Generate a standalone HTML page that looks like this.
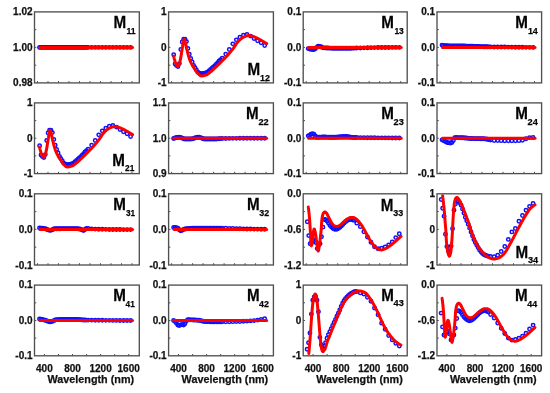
<!DOCTYPE html>
<html><head><meta charset="utf-8"><style>html,body{margin:0;padding:0;background:#fff;}svg{display:block;}
text{font-family:"Liberation Sans", Arial, sans-serif;font-weight:bold;stroke:#111;stroke-width:0.25px;}
.t{font-size:10px;fill:#111;}
.m{font-size:15.8px;fill:#000;}
.w{font-size:11px;fill:#111;}
.s{font-size:9.9px;fill:#000;}</style></head>
<body><svg width="550" height="393" viewBox="0 0 550 393">
<rect width="550" height="393" fill="#fff"/>
<g fill="none" stroke="#1010ff" stroke-width="1.5"><circle cx="39.50" cy="47.40" r="1.7"/><circle cx="40.92" cy="47.40" r="1.7"/><circle cx="42.34" cy="47.40" r="1.7"/><circle cx="43.76" cy="47.40" r="1.7"/><circle cx="45.18" cy="47.40" r="1.7"/><circle cx="46.60" cy="47.40" r="1.7"/><circle cx="48.02" cy="47.40" r="1.7"/><circle cx="49.44" cy="47.40" r="1.7"/><circle cx="50.86" cy="47.40" r="1.7"/><circle cx="52.28" cy="47.40" r="1.7"/><circle cx="53.70" cy="47.40" r="1.7"/><circle cx="55.12" cy="47.40" r="1.7"/><circle cx="56.54" cy="47.40" r="1.7"/><circle cx="57.96" cy="47.40" r="1.7"/><circle cx="59.38" cy="47.40" r="1.7"/><circle cx="60.80" cy="47.40" r="1.7"/><circle cx="62.22" cy="47.40" r="1.7"/><circle cx="63.64" cy="47.40" r="1.7"/><circle cx="65.06" cy="47.40" r="1.7"/><circle cx="66.48" cy="47.40" r="1.7"/><circle cx="67.90" cy="47.40" r="1.7"/><circle cx="69.32" cy="47.40" r="1.7"/><circle cx="70.74" cy="47.40" r="1.7"/><circle cx="72.16" cy="47.40" r="1.7"/><circle cx="73.58" cy="47.40" r="1.7"/><circle cx="75.00" cy="47.40" r="1.7"/><circle cx="76.42" cy="47.40" r="1.7"/><circle cx="77.84" cy="47.40" r="1.7"/><circle cx="79.26" cy="47.40" r="1.7"/><circle cx="80.68" cy="47.40" r="1.7"/><circle cx="82.10" cy="47.40" r="1.7"/><circle cx="83.52" cy="47.40" r="1.7"/><circle cx="84.94" cy="47.40" r="1.7"/><circle cx="86.36" cy="47.40" r="1.7"/><circle cx="88.10" cy="47.40" r="1.7"/><circle cx="91.64" cy="47.40" r="1.7"/><circle cx="95.18" cy="47.40" r="1.7"/><circle cx="98.72" cy="47.40" r="1.7"/><circle cx="102.26" cy="47.40" r="1.7"/><circle cx="105.80" cy="47.40" r="1.7"/><circle cx="109.34" cy="47.40" r="1.7"/><circle cx="112.88" cy="47.40" r="1.7"/><circle cx="116.42" cy="47.40" r="1.7"/><circle cx="119.96" cy="47.40" r="1.7"/><circle cx="123.50" cy="47.40" r="1.7"/><circle cx="127.04" cy="47.40" r="1.7"/><circle cx="130.58" cy="47.40" r="1.7"/></g>
<path d="M40.00,47.40 L132.50,47.40" fill="none" stroke="#ff0000" stroke-width="3.0" stroke-linecap="round"/>
<rect x="34.5" y="11.9" width="104.8" height="71.0" fill="none" stroke="#505050" stroke-width="1.35"/>
<path d="M34.5,29.6h1.8 M34.5,47.4h1.8 M34.5,65.2h1.8 M37.5,82.9v-1.8 M48.0,82.9v-1.8 M58.5,82.9v-1.8 M69.0,82.9v-1.8 M79.5,82.9v-1.8 M90.0,82.9v-1.8 M100.5,82.9v-1.8 M111.0,82.9v-1.8 M121.5,82.9v-1.8 M132.0,82.9v-1.8" stroke="#505050" stroke-width="1"/>
<text x="32.55" y="15.10" text-anchor="end" class="t">1.02</text>
<text x="32.55" y="51.00" text-anchor="end" class="t">1.00</text>
<text x="32.55" y="86.40" text-anchor="end" class="t">0.98</text>
<text x="113.50" y="27.90" class="m" transform="translate(114.40,0) scale(0.96,1) translate(-114.40,0)">M</text>
<text x="126.40" y="33.80" class="s" textLength="9.2" lengthAdjust="spacingAndGlyphs">11</text>
<g fill="none" stroke="#1010ff" stroke-width="1.5"><circle cx="173.70" cy="54.80" r="1.7"/><circle cx="175.12" cy="63.96" r="1.7"/><circle cx="176.54" cy="65.60" r="1.7"/><circle cx="177.96" cy="66.57" r="1.7"/><circle cx="179.38" cy="63.62" r="1.7"/><circle cx="180.80" cy="49.49" r="1.7"/><circle cx="182.22" cy="42.06" r="1.7"/><circle cx="183.64" cy="39.20" r="1.7"/><circle cx="185.06" cy="39.20" r="1.7"/><circle cx="186.48" cy="41.61" r="1.7"/><circle cx="187.90" cy="48.41" r="1.7"/><circle cx="189.32" cy="54.29" r="1.7"/><circle cx="190.74" cy="58.38" r="1.7"/><circle cx="192.16" cy="62.01" r="1.7"/><circle cx="193.58" cy="65.33" r="1.7"/><circle cx="195.00" cy="67.60" r="1.7"/><circle cx="196.42" cy="69.90" r="1.7"/><circle cx="197.84" cy="72.26" r="1.7"/><circle cx="199.26" cy="73.19" r="1.7"/><circle cx="200.68" cy="73.54" r="1.7"/><circle cx="202.10" cy="73.70" r="1.7"/><circle cx="203.52" cy="73.57" r="1.7"/><circle cx="204.94" cy="73.18" r="1.7"/><circle cx="206.36" cy="72.63" r="1.7"/><circle cx="207.78" cy="71.92" r="1.7"/><circle cx="209.20" cy="70.80" r="1.7"/><circle cx="210.62" cy="69.49" r="1.7"/><circle cx="212.04" cy="68.24" r="1.7"/><circle cx="213.46" cy="67.00" r="1.7"/><circle cx="214.88" cy="65.70" r="1.7"/><circle cx="216.30" cy="64.29" r="1.7"/><circle cx="217.72" cy="62.66" r="1.7"/><circle cx="219.14" cy="61.06" r="1.7"/><circle cx="220.56" cy="59.76" r="1.7"/><circle cx="222.20" cy="58.30" r="1.7"/><circle cx="225.74" cy="54.10" r="1.7"/><circle cx="229.28" cy="49.46" r="1.7"/><circle cx="232.82" cy="43.87" r="1.7"/><circle cx="236.36" cy="39.84" r="1.7"/><circle cx="239.90" cy="37.12" r="1.7"/><circle cx="243.44" cy="35.25" r="1.7"/><circle cx="246.98" cy="34.40" r="1.7"/><circle cx="250.52" cy="36.08" r="1.7"/><circle cx="254.06" cy="38.50" r="1.7"/><circle cx="257.60" cy="40.68" r="1.7"/><circle cx="261.14" cy="42.80" r="1.7"/><circle cx="264.68" cy="45.54" r="1.7"/></g>
<path d="M173.70,56.10 L173.80,56.59 L173.90,57.08 L174.01,57.57 L174.13,58.05 L174.25,58.54 L174.38,59.02 L174.51,59.50 L174.65,59.98 L174.80,60.46 L174.95,60.94 L175.10,61.42 L175.27,61.89 L175.45,62.36 L175.64,62.82 L175.84,63.27 L176.06,63.73 L176.31,64.26 L176.59,64.81 L176.88,65.33 L177.18,65.77 L177.48,66.07 L177.78,66.20 L178.08,66.07 L178.41,65.69 L178.72,65.18 L178.99,64.65 L179.19,64.19 L179.35,63.74 L179.51,63.28 L179.65,62.80 L179.78,62.32 L179.89,61.83 L180.01,61.33 L180.11,60.83 L180.21,60.33 L180.31,59.84 L180.41,59.34 L180.51,58.85 L180.61,58.36 L180.70,57.87 L180.79,57.38 L180.88,56.89 L180.97,56.40 L181.05,55.91 L181.13,55.41 L181.21,54.92 L181.29,54.43 L181.37,53.93 L181.44,53.44 L181.52,52.95 L181.60,52.45 L181.68,51.96 L181.76,51.47 L181.84,50.97 L181.92,50.48 L182.00,49.99 L182.08,49.50 L182.16,49.00 L182.24,48.51 L182.31,48.01 L182.39,47.52 L182.47,47.03 L182.54,46.53 L182.62,46.04 L182.70,45.55 L182.79,45.05 L182.87,44.56 L182.96,44.07 L183.05,43.58 L183.15,43.09 L183.25,42.61 L183.36,42.10 L183.48,41.50 L183.61,40.87 L183.74,40.25 L183.88,39.73 L184.03,39.36 L184.19,39.20 L184.36,39.34 L184.55,39.75 L184.75,40.32 L184.93,40.93 L185.09,41.48 L185.23,41.96 L185.36,42.44 L185.47,42.92 L185.58,43.41 L185.69,43.90 L185.79,44.39 L185.88,44.88 L185.98,45.37 L186.07,45.86 L186.17,46.35 L186.27,46.84 L186.37,47.33 L186.48,47.82 L186.59,48.31 L186.71,48.79 L186.82,49.28 L186.93,49.77 L187.05,50.25 L187.16,50.74 L187.28,51.23 L187.39,51.71 L187.51,52.20 L187.63,52.68 L187.75,53.16 L187.88,53.65 L188.01,54.13 L188.14,54.61 L188.27,55.09 L188.41,55.57 L188.54,56.05 L188.68,56.53 L188.83,57.01 L188.98,57.49 L189.13,57.97 L189.28,58.44 L189.44,58.92 L189.61,59.39 L189.78,59.86 L189.95,60.32 L190.13,60.78 L190.32,61.24 L190.53,61.70 L190.74,62.15 L190.95,62.60 L191.18,63.05 L191.41,63.49 L191.64,63.93 L191.88,64.37 L192.13,64.81 L192.37,65.25 L192.62,65.68 L192.87,66.10 L193.14,66.53 L193.40,66.95 L193.68,67.37 L193.95,67.79 L194.23,68.20 L194.51,68.62 L194.79,69.03 L195.07,69.45 L195.34,69.87 L195.62,70.29 L195.90,70.71 L196.18,71.13 L196.47,71.54 L196.77,71.94 L197.08,72.32 L197.40,72.69 L197.73,73.06 L198.08,73.46 L198.44,73.88 L198.81,74.30 L199.19,74.71 L199.58,75.09 L199.97,75.42 L200.38,75.70 L200.80,75.89 L201.22,75.99 L201.66,75.99 L202.12,75.96 L202.61,75.89 L203.11,75.80 L203.61,75.69 L204.13,75.57 L204.63,75.43 L205.13,75.28 L205.61,75.13 L206.07,74.98 L206.51,74.80 L206.95,74.59 L207.38,74.34 L207.80,74.07 L208.22,73.78 L208.63,73.48 L209.03,73.16 L209.43,72.84 L209.83,72.52 L210.23,72.20 L210.62,71.89 L211.00,71.58 L211.39,71.26 L211.76,70.93 L212.13,70.60 L212.50,70.26 L212.87,69.92 L213.23,69.58 L213.60,69.23 L213.96,68.89 L214.32,68.54 L214.68,68.19 L215.04,67.85 L215.41,67.51 L215.77,67.17 L216.14,66.83 L216.50,66.49 L216.86,66.14 L217.22,65.80 L217.59,65.45 L217.95,65.11 L218.31,64.76 L218.66,64.42 L219.02,64.07 L219.38,63.72 L219.73,63.37 L220.09,63.02 L220.44,62.66 L220.79,62.31 L221.14,61.95 L221.49,61.60 L221.84,61.24 L222.19,60.89 L222.54,60.53 L222.89,60.17 L223.23,59.81 L223.58,59.45 L223.93,59.09 L224.27,58.73 L224.62,58.37 L224.96,58.01 L225.31,57.65 L225.66,57.29 L226.00,56.93 L226.35,56.57 L226.70,56.21 L227.04,55.85 L227.38,55.48 L227.72,55.12 L228.06,54.75 L228.39,54.38 L228.72,54.01 L229.05,53.63 L229.37,53.25 L229.69,52.87 L230.02,52.49 L230.34,52.11 L230.65,51.72 L230.97,51.33 L231.28,50.94 L231.60,50.55 L231.91,50.16 L232.21,49.77 L232.52,49.37 L232.82,48.98 L233.12,48.58 L233.42,48.18 L233.72,47.78 L234.01,47.37 L234.29,46.96 L234.56,46.54 L234.84,46.12 L235.10,45.69 L235.37,45.27 L235.64,44.85 L235.91,44.42 L236.19,44.01 L236.47,43.60 L236.76,43.19 L237.06,42.80 L237.37,42.42 L237.69,42.04 L238.02,41.66 L238.35,41.28 L238.69,40.91 L239.04,40.55 L239.40,40.19 L239.77,39.84 L240.14,39.51 L240.51,39.19 L240.90,38.88 L241.29,38.58 L241.69,38.29 L242.11,38.00 L242.53,37.73 L242.96,37.46 L243.40,37.21 L243.85,36.98 L244.30,36.77 L244.75,36.58 L245.21,36.40 L245.68,36.22 L246.16,36.04 L246.65,35.88 L247.14,35.75 L247.63,35.65 L248.12,35.60 L248.61,35.61 L249.10,35.63 L249.60,35.68 L250.10,35.75 L250.60,35.83 L251.09,35.92 L251.59,36.02 L252.07,36.11 L252.55,36.23 L253.02,36.38 L253.49,36.55 L253.96,36.74 L254.42,36.94 L254.88,37.14 L255.34,37.34 L255.80,37.54 L256.26,37.74 L256.71,37.95 L257.16,38.16 L257.61,38.38 L258.06,38.60 L258.50,38.83 L258.95,39.06 L259.39,39.29 L259.83,39.53 L260.26,39.78 L260.69,40.03 L261.12,40.28 L261.55,40.53 L261.98,40.79 L262.41,41.05 L262.84,41.30 L263.27,41.56 L263.70,41.81 L264.13,42.07 L264.56,42.32 L264.99,42.58 L265.42,42.83 L265.84,43.09 L266.27,43.34 L266.70,43.60" fill="none" stroke="#ff0000" stroke-width="3.0" stroke-linejoin="round" stroke-linecap="round"/>
<rect x="168.6" y="11.9" width="104.8" height="71.0" fill="none" stroke="#505050" stroke-width="1.35"/>
<path d="M168.6,29.6h1.8 M168.6,47.4h1.8 M168.6,65.2h1.8 M171.6,82.9v-1.8 M182.1,82.9v-1.8 M192.6,82.9v-1.8 M203.1,82.9v-1.8 M213.6,82.9v-1.8 M224.1,82.9v-1.8 M234.6,82.9v-1.8 M245.1,82.9v-1.8 M255.6,82.9v-1.8 M266.1,82.9v-1.8" stroke="#505050" stroke-width="1"/>
<text x="166.65" y="15.10" text-anchor="end" class="t">1</text>
<text x="166.65" y="51.00" text-anchor="end" class="t">0</text>
<text x="166.65" y="86.40" text-anchor="end" class="t">-1</text>
<text x="247.50" y="75.00" class="m" transform="translate(248.40,0) scale(0.96,1) translate(-248.40,0)">M</text>
<text x="260.10" y="80.60" class="s" textLength="9.9" lengthAdjust="spacingAndGlyphs">12</text>
<g fill="none" stroke="#1010ff" stroke-width="1.5"><circle cx="308.20" cy="48.62" r="1.7"/><circle cx="309.62" cy="49.08" r="1.7"/><circle cx="311.04" cy="49.33" r="1.7"/><circle cx="312.46" cy="49.51" r="1.7"/><circle cx="313.88" cy="49.60" r="1.7"/><circle cx="315.30" cy="48.85" r="1.7"/><circle cx="316.72" cy="47.37" r="1.7"/><circle cx="318.14" cy="46.20" r="1.7"/><circle cx="319.56" cy="46.36" r="1.7"/><circle cx="320.98" cy="46.80" r="1.7"/><circle cx="322.40" cy="47.58" r="1.7"/><circle cx="323.82" cy="47.84" r="1.7"/><circle cx="325.24" cy="47.91" r="1.7"/><circle cx="326.66" cy="47.98" r="1.7"/><circle cx="328.08" cy="48.04" r="1.7"/><circle cx="329.50" cy="48.10" r="1.7"/><circle cx="330.92" cy="48.14" r="1.7"/><circle cx="332.34" cy="48.18" r="1.7"/><circle cx="333.76" cy="48.21" r="1.7"/><circle cx="335.18" cy="48.24" r="1.7"/><circle cx="336.60" cy="48.26" r="1.7"/><circle cx="338.02" cy="48.28" r="1.7"/><circle cx="339.44" cy="48.29" r="1.7"/><circle cx="340.86" cy="48.30" r="1.7"/><circle cx="342.28" cy="48.30" r="1.7"/><circle cx="343.70" cy="48.30" r="1.7"/><circle cx="345.12" cy="48.29" r="1.7"/><circle cx="346.54" cy="48.28" r="1.7"/><circle cx="347.96" cy="48.25" r="1.7"/><circle cx="349.38" cy="48.22" r="1.7"/><circle cx="350.80" cy="48.19" r="1.7"/><circle cx="352.22" cy="48.15" r="1.7"/><circle cx="353.64" cy="48.12" r="1.7"/><circle cx="355.06" cy="48.08" r="1.7"/><circle cx="356.80" cy="48.03" r="1.7"/><circle cx="360.34" cy="47.95" r="1.7"/><circle cx="363.88" cy="47.84" r="1.7"/><circle cx="367.42" cy="47.73" r="1.7"/><circle cx="370.96" cy="47.64" r="1.7"/><circle cx="374.50" cy="47.58" r="1.7"/><circle cx="378.04" cy="47.54" r="1.7"/><circle cx="381.58" cy="47.50" r="1.7"/><circle cx="385.12" cy="47.47" r="1.7"/><circle cx="388.66" cy="47.44" r="1.7"/><circle cx="392.20" cy="47.42" r="1.7"/><circle cx="395.74" cy="47.40" r="1.7"/><circle cx="399.28" cy="47.40" r="1.7"/></g>
<path d="M308.70,47.40 L401.20,47.40" fill="none" stroke="#ff0000" stroke-width="3.0" stroke-linecap="round"/>
<rect x="303.2" y="11.9" width="104.0" height="71.0" fill="none" stroke="#505050" stroke-width="1.35"/>
<path d="M303.2,29.6h1.8 M303.2,47.4h1.8 M303.2,65.2h1.8 M306.2,82.9v-1.8 M316.7,82.9v-1.8 M327.2,82.9v-1.8 M337.7,82.9v-1.8 M348.2,82.9v-1.8 M358.7,82.9v-1.8 M369.2,82.9v-1.8 M379.7,82.9v-1.8 M390.2,82.9v-1.8 M400.7,82.9v-1.8" stroke="#505050" stroke-width="1"/>
<text x="301.25" y="15.10" text-anchor="end" class="t">0.1</text>
<text x="301.25" y="51.00" text-anchor="end" class="t">0.0</text>
<text x="301.25" y="86.40" text-anchor="end" class="t">-0.1</text>
<text x="381.30" y="28.30" class="m" transform="translate(382.20,0) scale(0.96,1) translate(-382.20,0)">M</text>
<text x="394.40" y="33.60" class="s" textLength="9.4" lengthAdjust="spacingAndGlyphs">13</text>
<g fill="none" stroke="#1010ff" stroke-width="1.5"><circle cx="442.00" cy="45.10" r="1.7"/><circle cx="443.42" cy="45.35" r="1.7"/><circle cx="444.84" cy="45.59" r="1.7"/><circle cx="446.26" cy="45.76" r="1.7"/><circle cx="447.68" cy="45.82" r="1.7"/><circle cx="449.10" cy="45.86" r="1.7"/><circle cx="450.52" cy="45.89" r="1.7"/><circle cx="451.94" cy="45.92" r="1.7"/><circle cx="453.36" cy="45.94" r="1.7"/><circle cx="454.78" cy="45.96" r="1.7"/><circle cx="456.20" cy="45.97" r="1.7"/><circle cx="457.62" cy="45.98" r="1.7"/><circle cx="459.04" cy="46.00" r="1.7"/><circle cx="460.46" cy="46.01" r="1.7"/><circle cx="461.88" cy="46.02" r="1.7"/><circle cx="463.30" cy="46.04" r="1.7"/><circle cx="464.72" cy="46.06" r="1.7"/><circle cx="466.14" cy="46.08" r="1.7"/><circle cx="467.56" cy="46.11" r="1.7"/><circle cx="468.98" cy="46.15" r="1.7"/><circle cx="470.40" cy="46.19" r="1.7"/><circle cx="471.82" cy="46.24" r="1.7"/><circle cx="473.24" cy="46.30" r="1.7"/><circle cx="474.66" cy="46.35" r="1.7"/><circle cx="476.08" cy="46.41" r="1.7"/><circle cx="477.50" cy="46.47" r="1.7"/><circle cx="478.92" cy="46.53" r="1.7"/><circle cx="480.34" cy="46.59" r="1.7"/><circle cx="481.76" cy="46.64" r="1.7"/><circle cx="483.18" cy="46.69" r="1.7"/><circle cx="484.60" cy="46.74" r="1.7"/><circle cx="486.02" cy="46.78" r="1.7"/><circle cx="487.44" cy="46.81" r="1.7"/><circle cx="488.86" cy="46.84" r="1.7"/><circle cx="490.60" cy="46.87" r="1.7"/><circle cx="494.14" cy="46.93" r="1.7"/><circle cx="497.68" cy="46.98" r="1.7"/><circle cx="501.22" cy="47.03" r="1.7"/><circle cx="504.76" cy="47.07" r="1.7"/><circle cx="508.30" cy="47.12" r="1.7"/><circle cx="511.84" cy="47.16" r="1.7"/><circle cx="515.38" cy="47.21" r="1.7"/><circle cx="518.92" cy="47.25" r="1.7"/><circle cx="522.46" cy="47.29" r="1.7"/><circle cx="526.00" cy="47.33" r="1.7"/><circle cx="529.54" cy="47.37" r="1.7"/><circle cx="533.08" cy="47.40" r="1.7"/></g>
<path d="M442.50,47.40 L535.00,47.40" fill="none" stroke="#ff0000" stroke-width="3.0" stroke-linecap="round"/>
<rect x="437.0" y="11.9" width="104.6" height="71.0" fill="none" stroke="#505050" stroke-width="1.35"/>
<path d="M437.0,29.6h1.8 M437.0,47.4h1.8 M437.0,65.2h1.8 M440.0,82.9v-1.8 M450.5,82.9v-1.8 M461.0,82.9v-1.8 M471.5,82.9v-1.8 M482.0,82.9v-1.8 M492.5,82.9v-1.8 M503.0,82.9v-1.8 M513.5,82.9v-1.8 M524.0,82.9v-1.8 M534.5,82.9v-1.8" stroke="#505050" stroke-width="1"/>
<text x="435.05" y="15.10" text-anchor="end" class="t">0.1</text>
<text x="435.05" y="51.00" text-anchor="end" class="t">0.0</text>
<text x="435.05" y="86.40" text-anchor="end" class="t">-0.1</text>
<text x="515.20" y="28.50" class="m" transform="translate(516.10,0) scale(0.96,1) translate(-516.10,0)">M</text>
<text x="527.90" y="33.80" class="s" textLength="9.9" lengthAdjust="spacingAndGlyphs">14</text>
<g fill="none" stroke="#1010ff" stroke-width="1.5"><circle cx="39.60" cy="145.80" r="1.7"/><circle cx="41.02" cy="154.96" r="1.7"/><circle cx="42.44" cy="156.60" r="1.7"/><circle cx="43.86" cy="157.57" r="1.7"/><circle cx="45.28" cy="154.62" r="1.7"/><circle cx="46.70" cy="140.49" r="1.7"/><circle cx="48.12" cy="133.06" r="1.7"/><circle cx="49.54" cy="130.20" r="1.7"/><circle cx="50.96" cy="130.20" r="1.7"/><circle cx="52.38" cy="132.61" r="1.7"/><circle cx="53.80" cy="139.41" r="1.7"/><circle cx="55.22" cy="145.29" r="1.7"/><circle cx="56.64" cy="149.38" r="1.7"/><circle cx="58.06" cy="153.01" r="1.7"/><circle cx="59.48" cy="156.33" r="1.7"/><circle cx="60.90" cy="158.60" r="1.7"/><circle cx="62.32" cy="160.90" r="1.7"/><circle cx="63.74" cy="163.26" r="1.7"/><circle cx="65.16" cy="164.19" r="1.7"/><circle cx="66.58" cy="164.54" r="1.7"/><circle cx="68.00" cy="164.70" r="1.7"/><circle cx="69.42" cy="164.57" r="1.7"/><circle cx="70.84" cy="164.18" r="1.7"/><circle cx="72.26" cy="163.63" r="1.7"/><circle cx="73.68" cy="162.92" r="1.7"/><circle cx="75.10" cy="161.80" r="1.7"/><circle cx="76.52" cy="160.49" r="1.7"/><circle cx="77.94" cy="159.24" r="1.7"/><circle cx="79.36" cy="158.00" r="1.7"/><circle cx="80.78" cy="156.70" r="1.7"/><circle cx="82.20" cy="155.29" r="1.7"/><circle cx="83.62" cy="153.66" r="1.7"/><circle cx="85.04" cy="152.06" r="1.7"/><circle cx="86.46" cy="150.76" r="1.7"/><circle cx="88.10" cy="149.30" r="1.7"/><circle cx="91.64" cy="145.10" r="1.7"/><circle cx="95.18" cy="140.46" r="1.7"/><circle cx="98.72" cy="134.87" r="1.7"/><circle cx="102.26" cy="130.84" r="1.7"/><circle cx="105.80" cy="128.12" r="1.7"/><circle cx="109.34" cy="126.25" r="1.7"/><circle cx="112.88" cy="125.40" r="1.7"/><circle cx="116.42" cy="127.08" r="1.7"/><circle cx="119.96" cy="129.50" r="1.7"/><circle cx="123.50" cy="131.68" r="1.7"/><circle cx="127.04" cy="133.80" r="1.7"/><circle cx="130.58" cy="136.54" r="1.7"/></g>
<path d="M39.60,147.10 L39.70,147.59 L39.80,148.08 L39.91,148.57 L40.03,149.05 L40.15,149.54 L40.28,150.02 L40.41,150.50 L40.55,150.98 L40.70,151.46 L40.85,151.94 L41.00,152.42 L41.17,152.89 L41.35,153.36 L41.54,153.82 L41.74,154.27 L41.96,154.73 L42.21,155.26 L42.49,155.81 L42.78,156.33 L43.08,156.77 L43.38,157.07 L43.68,157.20 L43.98,157.07 L44.31,156.69 L44.62,156.18 L44.89,155.65 L45.09,155.19 L45.25,154.74 L45.41,154.28 L45.55,153.80 L45.68,153.32 L45.79,152.83 L45.91,152.33 L46.01,151.83 L46.11,151.33 L46.21,150.84 L46.31,150.34 L46.41,149.85 L46.51,149.36 L46.60,148.87 L46.69,148.38 L46.78,147.89 L46.87,147.40 L46.95,146.91 L47.03,146.41 L47.11,145.92 L47.19,145.43 L47.27,144.93 L47.34,144.44 L47.42,143.95 L47.50,143.45 L47.58,142.96 L47.66,142.47 L47.74,141.97 L47.82,141.48 L47.90,140.99 L47.98,140.50 L48.06,140.00 L48.14,139.51 L48.21,139.01 L48.29,138.52 L48.37,138.03 L48.44,137.53 L48.52,137.04 L48.60,136.55 L48.69,136.05 L48.77,135.56 L48.86,135.07 L48.95,134.58 L49.05,134.09 L49.15,133.61 L49.26,133.10 L49.38,132.50 L49.51,131.87 L49.64,131.25 L49.78,130.73 L49.93,130.36 L50.09,130.20 L50.26,130.34 L50.45,130.75 L50.65,131.32 L50.83,131.93 L50.99,132.48 L51.13,132.96 L51.26,133.44 L51.37,133.92 L51.48,134.41 L51.59,134.90 L51.69,135.39 L51.78,135.88 L51.88,136.37 L51.97,136.86 L52.07,137.35 L52.17,137.84 L52.27,138.33 L52.38,138.82 L52.49,139.31 L52.61,139.79 L52.72,140.28 L52.83,140.77 L52.95,141.25 L53.06,141.74 L53.18,142.23 L53.29,142.71 L53.41,143.20 L53.53,143.68 L53.65,144.16 L53.78,144.65 L53.91,145.13 L54.04,145.61 L54.17,146.09 L54.31,146.57 L54.44,147.05 L54.58,147.53 L54.73,148.01 L54.88,148.49 L55.03,148.97 L55.18,149.44 L55.34,149.92 L55.51,150.39 L55.68,150.86 L55.85,151.32 L56.03,151.78 L56.22,152.24 L56.43,152.70 L56.64,153.15 L56.85,153.60 L57.08,154.05 L57.31,154.49 L57.54,154.93 L57.78,155.37 L58.03,155.81 L58.27,156.25 L58.52,156.68 L58.77,157.10 L59.04,157.53 L59.30,157.95 L59.58,158.37 L59.85,158.79 L60.13,159.20 L60.41,159.62 L60.69,160.03 L60.97,160.45 L61.24,160.87 L61.52,161.29 L61.80,161.71 L62.08,162.13 L62.37,162.54 L62.67,162.94 L62.98,163.32 L63.30,163.69 L63.63,164.06 L63.98,164.46 L64.34,164.88 L64.71,165.30 L65.09,165.71 L65.48,166.09 L65.87,166.42 L66.28,166.70 L66.70,166.89 L67.12,166.99 L67.56,166.99 L68.02,166.96 L68.51,166.89 L69.01,166.80 L69.51,166.69 L70.03,166.57 L70.53,166.43 L71.03,166.28 L71.51,166.13 L71.97,165.98 L72.41,165.80 L72.85,165.59 L73.28,165.34 L73.70,165.07 L74.12,164.78 L74.53,164.48 L74.93,164.16 L75.33,163.84 L75.73,163.52 L76.13,163.20 L76.52,162.89 L76.90,162.58 L77.29,162.26 L77.66,161.93 L78.03,161.60 L78.40,161.26 L78.77,160.92 L79.13,160.58 L79.50,160.23 L79.86,159.89 L80.22,159.54 L80.58,159.19 L80.94,158.85 L81.31,158.51 L81.67,158.17 L82.04,157.83 L82.40,157.49 L82.76,157.14 L83.12,156.80 L83.49,156.45 L83.85,156.11 L84.21,155.76 L84.56,155.42 L84.92,155.07 L85.28,154.72 L85.63,154.37 L85.99,154.02 L86.34,153.66 L86.69,153.31 L87.04,152.95 L87.39,152.60 L87.74,152.24 L88.09,151.89 L88.44,151.53 L88.79,151.17 L89.13,150.81 L89.48,150.45 L89.83,150.09 L90.17,149.73 L90.52,149.37 L90.86,149.01 L91.21,148.65 L91.56,148.29 L91.90,147.93 L92.25,147.57 L92.60,147.21 L92.94,146.85 L93.28,146.48 L93.62,146.12 L93.96,145.75 L94.29,145.38 L94.62,145.01 L94.95,144.63 L95.27,144.25 L95.59,143.87 L95.92,143.49 L96.24,143.11 L96.55,142.72 L96.87,142.33 L97.18,141.94 L97.50,141.55 L97.81,141.16 L98.11,140.77 L98.42,140.37 L98.72,139.98 L99.02,139.58 L99.32,139.18 L99.62,138.78 L99.91,138.37 L100.19,137.96 L100.46,137.54 L100.74,137.12 L101.00,136.69 L101.27,136.27 L101.54,135.85 L101.81,135.42 L102.09,135.01 L102.37,134.60 L102.66,134.19 L102.96,133.80 L103.27,133.42 L103.59,133.04 L103.92,132.66 L104.25,132.28 L104.59,131.91 L104.94,131.55 L105.30,131.19 L105.67,130.84 L106.04,130.51 L106.41,130.19 L106.80,129.88 L107.19,129.58 L107.59,129.29 L108.01,129.00 L108.43,128.73 L108.86,128.46 L109.30,128.21 L109.75,127.98 L110.20,127.77 L110.65,127.58 L111.11,127.40 L111.58,127.22 L112.06,127.04 L112.55,126.88 L113.04,126.75 L113.53,126.65 L114.02,126.60 L114.51,126.61 L115.00,126.63 L115.50,126.68 L116.00,126.75 L116.50,126.83 L116.99,126.92 L117.49,127.02 L117.97,127.11 L118.45,127.23 L118.92,127.38 L119.39,127.55 L119.86,127.74 L120.32,127.94 L120.78,128.14 L121.24,128.34 L121.70,128.54 L122.16,128.74 L122.61,128.95 L123.06,129.16 L123.51,129.38 L123.96,129.60 L124.40,129.83 L124.85,130.06 L125.29,130.29 L125.73,130.53 L126.16,130.78 L126.59,131.03 L127.02,131.28 L127.45,131.53 L127.88,131.79 L128.31,132.05 L128.74,132.30 L129.17,132.56 L129.60,132.81 L130.03,133.07 L130.46,133.32 L130.89,133.58 L131.32,133.83 L131.74,134.09 L132.17,134.34 L132.60,134.60" fill="none" stroke="#ff0000" stroke-width="3.0" stroke-linejoin="round" stroke-linecap="round"/>
<rect x="34.5" y="102.9" width="104.8" height="70.7" fill="none" stroke="#505050" stroke-width="1.35"/>
<path d="M34.5,120.6h1.8 M34.5,138.2h1.8 M34.5,155.9h1.8 M37.5,173.6v-1.8 M48.0,173.6v-1.8 M58.5,173.6v-1.8 M69.0,173.6v-1.8 M79.5,173.6v-1.8 M90.0,173.6v-1.8 M100.5,173.6v-1.8 M111.0,173.6v-1.8 M121.5,173.6v-1.8 M132.0,173.6v-1.8" stroke="#505050" stroke-width="1"/>
<text x="32.55" y="106.10" text-anchor="end" class="t">1</text>
<text x="32.55" y="141.85" text-anchor="end" class="t">0</text>
<text x="32.55" y="177.10" text-anchor="end" class="t">-1</text>
<text x="112.10" y="165.60" class="m" transform="translate(113.00,0) scale(0.96,1) translate(-113.00,0)">M</text>
<text x="125.10" y="170.60" class="s" textLength="9.2" lengthAdjust="spacingAndGlyphs">21</text>
<g fill="none" stroke="#1010ff" stroke-width="1.5"><circle cx="173.60" cy="138.55" r="1.7"/><circle cx="175.02" cy="137.94" r="1.7"/><circle cx="176.44" cy="137.54" r="1.7"/><circle cx="177.86" cy="137.33" r="1.7"/><circle cx="179.28" cy="137.25" r="1.7"/><circle cx="180.70" cy="137.45" r="1.7"/><circle cx="182.12" cy="138.09" r="1.7"/><circle cx="183.54" cy="138.73" r="1.7"/><circle cx="184.96" cy="138.96" r="1.7"/><circle cx="186.38" cy="139.00" r="1.7"/><circle cx="187.80" cy="139.03" r="1.7"/><circle cx="189.22" cy="139.04" r="1.7"/><circle cx="190.64" cy="139.05" r="1.7"/><circle cx="192.06" cy="138.88" r="1.7"/><circle cx="193.48" cy="138.49" r="1.7"/><circle cx="194.90" cy="137.99" r="1.7"/><circle cx="196.32" cy="137.53" r="1.7"/><circle cx="197.74" cy="137.21" r="1.7"/><circle cx="199.16" cy="137.19" r="1.7"/><circle cx="200.58" cy="137.60" r="1.7"/><circle cx="202.00" cy="138.21" r="1.7"/><circle cx="203.42" cy="138.75" r="1.7"/><circle cx="204.84" cy="138.96" r="1.7"/><circle cx="206.26" cy="138.98" r="1.7"/><circle cx="207.68" cy="139.01" r="1.7"/><circle cx="209.10" cy="139.03" r="1.7"/><circle cx="210.52" cy="139.04" r="1.7"/><circle cx="211.94" cy="139.05" r="1.7"/><circle cx="213.36" cy="139.05" r="1.7"/><circle cx="214.78" cy="139.03" r="1.7"/><circle cx="216.20" cy="138.95" r="1.7"/><circle cx="217.62" cy="138.85" r="1.7"/><circle cx="219.04" cy="138.73" r="1.7"/><circle cx="220.46" cy="138.61" r="1.7"/><circle cx="222.20" cy="138.49" r="1.7"/><circle cx="225.74" cy="138.43" r="1.7"/><circle cx="229.28" cy="138.39" r="1.7"/><circle cx="232.82" cy="138.36" r="1.7"/><circle cx="236.36" cy="138.34" r="1.7"/><circle cx="239.90" cy="138.32" r="1.7"/><circle cx="243.44" cy="138.30" r="1.7"/><circle cx="246.98" cy="138.28" r="1.7"/><circle cx="250.52" cy="138.27" r="1.7"/><circle cx="254.06" cy="138.26" r="1.7"/><circle cx="257.60" cy="138.25" r="1.7"/><circle cx="261.14" cy="138.25" r="1.7"/><circle cx="264.68" cy="138.25" r="1.7"/></g>
<path d="M174.10,138.25 L266.60,138.25" fill="none" stroke="#ff0000" stroke-width="3.0" stroke-linecap="round"/>
<rect x="168.6" y="102.9" width="104.8" height="70.7" fill="none" stroke="#505050" stroke-width="1.35"/>
<path d="M168.6,120.6h1.8 M168.6,138.2h1.8 M168.6,155.9h1.8 M171.6,173.6v-1.8 M182.1,173.6v-1.8 M192.6,173.6v-1.8 M203.1,173.6v-1.8 M213.6,173.6v-1.8 M224.1,173.6v-1.8 M234.6,173.6v-1.8 M245.1,173.6v-1.8 M255.6,173.6v-1.8 M266.1,173.6v-1.8" stroke="#505050" stroke-width="1"/>
<text x="166.65" y="106.10" text-anchor="end" class="t">1.1</text>
<text x="166.65" y="141.85" text-anchor="end" class="t">1.0</text>
<text x="166.65" y="177.10" text-anchor="end" class="t">0.9</text>
<text x="246.00" y="119.50" class="m" transform="translate(246.90,0) scale(0.96,1) translate(-246.90,0)">M</text>
<text x="258.40" y="124.80" class="s" textLength="10.2" lengthAdjust="spacingAndGlyphs">22</text>
<g fill="none" stroke="#1010ff" stroke-width="1.5"><circle cx="308.20" cy="135.83" r="1.7"/><circle cx="309.62" cy="135.23" r="1.7"/><circle cx="311.04" cy="134.20" r="1.7"/><circle cx="312.46" cy="133.76" r="1.7"/><circle cx="313.88" cy="134.12" r="1.7"/><circle cx="315.30" cy="136.07" r="1.7"/><circle cx="316.72" cy="137.25" r="1.7"/><circle cx="318.14" cy="137.21" r="1.7"/><circle cx="319.56" cy="137.16" r="1.7"/><circle cx="320.98" cy="137.10" r="1.7"/><circle cx="322.40" cy="137.06" r="1.7"/><circle cx="323.82" cy="137.05" r="1.7"/><circle cx="325.24" cy="137.07" r="1.7"/><circle cx="326.66" cy="137.11" r="1.7"/><circle cx="328.08" cy="137.15" r="1.7"/><circle cx="329.50" cy="137.19" r="1.7"/><circle cx="330.92" cy="137.22" r="1.7"/><circle cx="332.34" cy="137.25" r="1.7"/><circle cx="333.76" cy="137.25" r="1.7"/><circle cx="335.18" cy="137.20" r="1.7"/><circle cx="336.60" cy="137.11" r="1.7"/><circle cx="338.02" cy="137.00" r="1.7"/><circle cx="339.44" cy="136.87" r="1.7"/><circle cx="340.86" cy="136.74" r="1.7"/><circle cx="342.28" cy="136.62" r="1.7"/><circle cx="343.70" cy="136.53" r="1.7"/><circle cx="345.12" cy="136.47" r="1.7"/><circle cx="346.54" cy="136.46" r="1.7"/><circle cx="347.96" cy="136.60" r="1.7"/><circle cx="349.38" cy="136.85" r="1.7"/><circle cx="350.80" cy="137.14" r="1.7"/><circle cx="352.22" cy="137.37" r="1.7"/><circle cx="353.64" cy="137.47" r="1.7"/><circle cx="355.06" cy="137.51" r="1.7"/><circle cx="356.80" cy="137.55" r="1.7"/><circle cx="360.34" cy="137.61" r="1.7"/><circle cx="363.88" cy="137.66" r="1.7"/><circle cx="367.42" cy="137.70" r="1.7"/><circle cx="370.96" cy="137.75" r="1.7"/><circle cx="374.50" cy="137.79" r="1.7"/><circle cx="378.04" cy="137.83" r="1.7"/><circle cx="381.58" cy="137.86" r="1.7"/><circle cx="385.12" cy="137.89" r="1.7"/><circle cx="388.66" cy="137.92" r="1.7"/><circle cx="392.20" cy="137.93" r="1.7"/><circle cx="395.74" cy="137.95" r="1.7"/><circle cx="399.28" cy="137.95" r="1.7"/></g>
<path d="M308.70,138.25 L401.20,138.25" fill="none" stroke="#ff0000" stroke-width="3.0" stroke-linecap="round"/>
<rect x="303.2" y="102.9" width="104.0" height="70.7" fill="none" stroke="#505050" stroke-width="1.35"/>
<path d="M303.2,120.6h1.8 M303.2,138.2h1.8 M303.2,155.9h1.8 M306.2,173.6v-1.8 M316.7,173.6v-1.8 M327.2,173.6v-1.8 M337.7,173.6v-1.8 M348.2,173.6v-1.8 M358.7,173.6v-1.8 M369.2,173.6v-1.8 M379.7,173.6v-1.8 M390.2,173.6v-1.8 M400.7,173.6v-1.8" stroke="#505050" stroke-width="1"/>
<text x="301.25" y="106.10" text-anchor="end" class="t">0.1</text>
<text x="301.25" y="141.85" text-anchor="end" class="t">0.0</text>
<text x="301.25" y="177.10" text-anchor="end" class="t">-0.1</text>
<text x="381.20" y="119.50" class="m" transform="translate(382.10,0) scale(0.96,1) translate(-382.10,0)">M</text>
<text x="393.60" y="124.80" class="s" textLength="10.2" lengthAdjust="spacingAndGlyphs">23</text>
<g fill="none" stroke="#1010ff" stroke-width="1.5"><circle cx="442.00" cy="139.84" r="1.7"/><circle cx="443.42" cy="140.50" r="1.7"/><circle cx="444.84" cy="141.17" r="1.7"/><circle cx="446.26" cy="141.98" r="1.7"/><circle cx="447.68" cy="142.67" r="1.7"/><circle cx="449.10" cy="142.91" r="1.7"/><circle cx="450.52" cy="143.04" r="1.7"/><circle cx="451.94" cy="142.47" r="1.7"/><circle cx="453.36" cy="140.45" r="1.7"/><circle cx="454.78" cy="137.67" r="1.7"/><circle cx="456.20" cy="137.56" r="1.7"/><circle cx="457.62" cy="137.59" r="1.7"/><circle cx="459.04" cy="137.63" r="1.7"/><circle cx="460.46" cy="137.69" r="1.7"/><circle cx="461.88" cy="137.75" r="1.7"/><circle cx="463.30" cy="137.82" r="1.7"/><circle cx="464.72" cy="137.94" r="1.7"/><circle cx="466.14" cy="138.07" r="1.7"/><circle cx="467.56" cy="138.22" r="1.7"/><circle cx="468.98" cy="138.35" r="1.7"/><circle cx="470.40" cy="138.47" r="1.7"/><circle cx="471.82" cy="138.54" r="1.7"/><circle cx="473.24" cy="138.58" r="1.7"/><circle cx="474.66" cy="138.61" r="1.7"/><circle cx="476.08" cy="138.63" r="1.7"/><circle cx="477.50" cy="138.65" r="1.7"/><circle cx="478.92" cy="138.67" r="1.7"/><circle cx="480.34" cy="138.70" r="1.7"/><circle cx="481.76" cy="138.74" r="1.7"/><circle cx="483.18" cy="138.80" r="1.7"/><circle cx="484.60" cy="138.90" r="1.7"/><circle cx="486.02" cy="139.04" r="1.7"/><circle cx="487.44" cy="139.21" r="1.7"/><circle cx="488.86" cy="139.43" r="1.7"/><circle cx="490.60" cy="140.04" r="1.7"/><circle cx="494.14" cy="140.53" r="1.7"/><circle cx="497.68" cy="140.59" r="1.7"/><circle cx="501.22" cy="140.64" r="1.7"/><circle cx="504.76" cy="140.72" r="1.7"/><circle cx="508.30" cy="140.81" r="1.7"/><circle cx="511.84" cy="140.85" r="1.7"/><circle cx="515.38" cy="140.81" r="1.7"/><circle cx="518.92" cy="140.67" r="1.7"/><circle cx="522.46" cy="140.37" r="1.7"/><circle cx="526.00" cy="138.69" r="1.7"/><circle cx="529.54" cy="137.60" r="1.7"/><circle cx="533.08" cy="137.45" r="1.7"/></g>
<path d="M442.50,138.25 L535.00,138.25" fill="none" stroke="#ff0000" stroke-width="3.0" stroke-linecap="round"/>
<rect x="437.0" y="102.9" width="104.6" height="70.7" fill="none" stroke="#505050" stroke-width="1.35"/>
<path d="M437.0,120.6h1.8 M437.0,138.2h1.8 M437.0,155.9h1.8 M440.0,173.6v-1.8 M450.5,173.6v-1.8 M461.0,173.6v-1.8 M471.5,173.6v-1.8 M482.0,173.6v-1.8 M492.5,173.6v-1.8 M503.0,173.6v-1.8 M513.5,173.6v-1.8 M524.0,173.6v-1.8 M534.5,173.6v-1.8" stroke="#505050" stroke-width="1"/>
<text x="435.05" y="106.10" text-anchor="end" class="t">0.1</text>
<text x="435.05" y="141.85" text-anchor="end" class="t">0.0</text>
<text x="435.05" y="177.10" text-anchor="end" class="t">-0.1</text>
<text x="515.20" y="119.20" class="m" transform="translate(516.10,0) scale(0.96,1) translate(-516.10,0)">M</text>
<text x="527.60" y="124.50" class="s" textLength="10.2" lengthAdjust="spacingAndGlyphs">24</text>
<g fill="none" stroke="#1010ff" stroke-width="1.5"><circle cx="39.50" cy="228.07" r="1.7"/><circle cx="40.92" cy="228.13" r="1.7"/><circle cx="42.34" cy="228.27" r="1.7"/><circle cx="43.76" cy="228.48" r="1.7"/><circle cx="45.18" cy="228.76" r="1.7"/><circle cx="46.60" cy="229.26" r="1.7"/><circle cx="48.02" cy="229.83" r="1.7"/><circle cx="49.44" cy="230.28" r="1.7"/><circle cx="50.86" cy="230.36" r="1.7"/><circle cx="52.28" cy="229.74" r="1.7"/><circle cx="53.70" cy="228.98" r="1.7"/><circle cx="55.12" cy="228.79" r="1.7"/><circle cx="56.54" cy="228.75" r="1.7"/><circle cx="57.96" cy="228.73" r="1.7"/><circle cx="59.38" cy="228.70" r="1.7"/><circle cx="60.80" cy="228.68" r="1.7"/><circle cx="62.22" cy="228.66" r="1.7"/><circle cx="63.64" cy="228.65" r="1.7"/><circle cx="65.06" cy="228.63" r="1.7"/><circle cx="66.48" cy="228.62" r="1.7"/><circle cx="67.90" cy="228.61" r="1.7"/><circle cx="69.32" cy="228.61" r="1.7"/><circle cx="70.74" cy="228.60" r="1.7"/><circle cx="72.16" cy="228.60" r="1.7"/><circle cx="73.58" cy="228.60" r="1.7"/><circle cx="75.00" cy="228.60" r="1.7"/><circle cx="76.42" cy="228.66" r="1.7"/><circle cx="77.84" cy="228.77" r="1.7"/><circle cx="79.26" cy="228.93" r="1.7"/><circle cx="80.68" cy="229.14" r="1.7"/><circle cx="82.10" cy="229.92" r="1.7"/><circle cx="83.52" cy="230.50" r="1.7"/><circle cx="84.94" cy="229.51" r="1.7"/><circle cx="86.36" cy="228.41" r="1.7"/><circle cx="88.10" cy="228.47" r="1.7"/><circle cx="91.64" cy="228.86" r="1.7"/><circle cx="95.18" cy="229.12" r="1.7"/><circle cx="98.72" cy="229.21" r="1.7"/><circle cx="102.26" cy="229.29" r="1.7"/><circle cx="105.80" cy="229.37" r="1.7"/><circle cx="109.34" cy="229.43" r="1.7"/><circle cx="112.88" cy="229.48" r="1.7"/><circle cx="116.42" cy="229.53" r="1.7"/><circle cx="119.96" cy="229.56" r="1.7"/><circle cx="123.50" cy="229.58" r="1.7"/><circle cx="127.04" cy="229.60" r="1.7"/><circle cx="130.58" cy="229.60" r="1.7"/></g>
<path d="M40.00,229.40 L132.50,229.40" fill="none" stroke="#ff0000" stroke-width="3.0" stroke-linecap="round"/>
<rect x="34.5" y="193.8" width="104.8" height="71.2" fill="none" stroke="#505050" stroke-width="1.35"/>
<path d="M34.5,211.6h1.8 M34.5,229.4h1.8 M34.5,247.2h1.8 M37.5,265.0v-1.8 M48.0,265.0v-1.8 M58.5,265.0v-1.8 M69.0,265.0v-1.8 M79.5,265.0v-1.8 M90.0,265.0v-1.8 M100.5,265.0v-1.8 M111.0,265.0v-1.8 M121.5,265.0v-1.8 M132.0,265.0v-1.8" stroke="#505050" stroke-width="1"/>
<text x="32.55" y="197.00" text-anchor="end" class="t">0.1</text>
<text x="32.55" y="233.00" text-anchor="end" class="t">0.0</text>
<text x="32.55" y="268.50" text-anchor="end" class="t">-0.1</text>
<text x="113.20" y="210.50" class="m" transform="translate(114.10,0) scale(0.96,1) translate(-114.10,0)">M</text>
<text x="125.90" y="215.80" class="s" textLength="9.2" lengthAdjust="spacingAndGlyphs">31</text>
<g fill="none" stroke="#1010ff" stroke-width="1.5"><circle cx="173.60" cy="227.40" r="1.7"/><circle cx="175.02" cy="227.49" r="1.7"/><circle cx="176.44" cy="227.72" r="1.7"/><circle cx="177.86" cy="228.12" r="1.7"/><circle cx="179.28" cy="229.74" r="1.7"/><circle cx="180.70" cy="230.80" r="1.7"/><circle cx="182.12" cy="230.26" r="1.7"/><circle cx="183.54" cy="229.39" r="1.7"/><circle cx="184.96" cy="228.95" r="1.7"/><circle cx="186.38" cy="228.78" r="1.7"/><circle cx="187.80" cy="228.63" r="1.7"/><circle cx="189.22" cy="228.50" r="1.7"/><circle cx="190.64" cy="228.39" r="1.7"/><circle cx="192.06" cy="228.29" r="1.7"/><circle cx="193.48" cy="228.22" r="1.7"/><circle cx="194.90" cy="228.16" r="1.7"/><circle cx="196.32" cy="228.12" r="1.7"/><circle cx="197.74" cy="228.10" r="1.7"/><circle cx="199.16" cy="228.10" r="1.7"/><circle cx="200.58" cy="228.10" r="1.7"/><circle cx="202.00" cy="228.10" r="1.7"/><circle cx="203.42" cy="228.10" r="1.7"/><circle cx="204.84" cy="228.10" r="1.7"/><circle cx="206.26" cy="228.10" r="1.7"/><circle cx="207.68" cy="228.10" r="1.7"/><circle cx="209.10" cy="228.10" r="1.7"/><circle cx="210.52" cy="228.10" r="1.7"/><circle cx="211.94" cy="228.10" r="1.7"/><circle cx="213.36" cy="228.10" r="1.7"/><circle cx="214.78" cy="228.10" r="1.7"/><circle cx="216.20" cy="228.10" r="1.7"/><circle cx="217.62" cy="228.10" r="1.7"/><circle cx="219.04" cy="228.10" r="1.7"/><circle cx="220.46" cy="228.12" r="1.7"/><circle cx="222.20" cy="228.16" r="1.7"/><circle cx="225.74" cy="228.30" r="1.7"/><circle cx="229.28" cy="228.42" r="1.7"/><circle cx="232.82" cy="228.54" r="1.7"/><circle cx="236.36" cy="228.66" r="1.7"/><circle cx="239.90" cy="228.77" r="1.7"/><circle cx="243.44" cy="228.88" r="1.7"/><circle cx="246.98" cy="228.97" r="1.7"/><circle cx="250.52" cy="229.03" r="1.7"/><circle cx="254.06" cy="229.09" r="1.7"/><circle cx="257.60" cy="229.14" r="1.7"/><circle cx="261.14" cy="229.18" r="1.7"/><circle cx="264.68" cy="229.20" r="1.7"/></g>
<path d="M174.10,229.40 L266.60,229.40" fill="none" stroke="#ff0000" stroke-width="3.0" stroke-linecap="round"/>
<rect x="168.6" y="193.8" width="104.8" height="71.2" fill="none" stroke="#505050" stroke-width="1.35"/>
<path d="M168.6,211.6h1.8 M168.6,229.4h1.8 M168.6,247.2h1.8 M171.6,265.0v-1.8 M182.1,265.0v-1.8 M192.6,265.0v-1.8 M203.1,265.0v-1.8 M213.6,265.0v-1.8 M224.1,265.0v-1.8 M234.6,265.0v-1.8 M245.1,265.0v-1.8 M255.6,265.0v-1.8 M266.1,265.0v-1.8" stroke="#505050" stroke-width="1"/>
<text x="166.65" y="197.00" text-anchor="end" class="t">0.1</text>
<text x="166.65" y="233.00" text-anchor="end" class="t">0.0</text>
<text x="166.65" y="268.50" text-anchor="end" class="t">-0.1</text>
<text x="246.90" y="210.50" class="m" transform="translate(247.80,0) scale(0.96,1) translate(-247.80,0)">M</text>
<text x="259.30" y="215.80" class="s" textLength="9.9" lengthAdjust="spacingAndGlyphs">32</text>
<g fill="none" stroke="#1010ff" stroke-width="1.5"><circle cx="307.30" cy="221.80" r="1.7"/><circle cx="308.72" cy="235.62" r="1.7"/><circle cx="310.14" cy="243.69" r="1.7"/><circle cx="311.56" cy="242.78" r="1.7"/><circle cx="312.98" cy="240.65" r="1.7"/><circle cx="314.40" cy="240.14" r="1.7"/><circle cx="315.82" cy="242.60" r="1.7"/><circle cx="317.24" cy="248.60" r="1.7"/><circle cx="318.66" cy="245.32" r="1.7"/><circle cx="320.08" cy="243.66" r="1.7"/><circle cx="321.50" cy="236.78" r="1.7"/><circle cx="322.92" cy="227.14" r="1.7"/><circle cx="324.34" cy="219.46" r="1.7"/><circle cx="325.76" cy="219.82" r="1.7"/><circle cx="327.18" cy="221.20" r="1.7"/><circle cx="328.60" cy="223.33" r="1.7"/><circle cx="330.02" cy="225.38" r="1.7"/><circle cx="331.44" cy="227.05" r="1.7"/><circle cx="332.86" cy="228.28" r="1.7"/><circle cx="334.28" cy="229.00" r="1.7"/><circle cx="335.70" cy="229.39" r="1.7"/><circle cx="337.12" cy="229.10" r="1.7"/><circle cx="338.54" cy="228.33" r="1.7"/><circle cx="339.96" cy="227.26" r="1.7"/><circle cx="341.38" cy="225.95" r="1.7"/><circle cx="342.80" cy="224.50" r="1.7"/><circle cx="344.22" cy="223.09" r="1.7"/><circle cx="345.64" cy="221.65" r="1.7"/><circle cx="347.06" cy="220.57" r="1.7"/><circle cx="348.48" cy="219.88" r="1.7"/><circle cx="349.90" cy="219.51" r="1.7"/><circle cx="351.32" cy="219.56" r="1.7"/><circle cx="352.74" cy="219.74" r="1.7"/><circle cx="354.16" cy="220.41" r="1.7"/><circle cx="356.80" cy="223.15" r="1.7"/><circle cx="360.34" cy="226.66" r="1.7"/><circle cx="363.88" cy="231.70" r="1.7"/><circle cx="367.42" cy="237.07" r="1.7"/><circle cx="370.96" cy="242.22" r="1.7"/><circle cx="374.50" cy="246.78" r="1.7"/><circle cx="378.04" cy="248.79" r="1.7"/><circle cx="381.58" cy="248.26" r="1.7"/><circle cx="385.12" cy="246.97" r="1.7"/><circle cx="388.66" cy="244.86" r="1.7"/><circle cx="392.20" cy="241.89" r="1.7"/><circle cx="395.74" cy="237.59" r="1.7"/><circle cx="399.28" cy="233.81" r="1.7"/></g>
<path d="M308.30,207.00 L308.36,207.50 L308.43,207.99 L308.49,208.49 L308.55,208.98 L308.61,209.48 L308.67,209.98 L308.73,210.47 L308.79,210.97 L308.85,211.47 L308.90,211.96 L308.95,212.46 L309.01,212.96 L309.06,213.45 L309.11,213.95 L309.16,214.45 L309.20,214.95 L309.25,215.45 L309.30,215.94 L309.34,216.44 L309.39,216.94 L309.43,217.44 L309.48,217.94 L309.52,218.43 L309.56,218.93 L309.59,219.43 L309.63,219.93 L309.67,220.43 L309.70,220.93 L309.74,221.42 L309.77,221.92 L309.80,222.42 L309.84,222.92 L309.87,223.42 L309.90,223.92 L309.93,224.42 L309.96,224.92 L309.99,225.42 L310.02,225.92 L310.05,226.41 L310.08,226.91 L310.11,227.41 L310.14,227.91 L310.16,228.41 L310.19,228.91 L310.22,229.41 L310.25,229.91 L310.28,230.41 L310.31,230.91 L310.34,231.41 L310.37,231.90 L310.40,232.40 L310.43,232.90 L310.45,233.40 L310.48,233.90 L310.51,234.40 L310.54,234.90 L310.57,235.40 L310.59,235.90 L310.62,236.40 L310.65,236.90 L310.67,237.40 L310.70,237.90 L310.72,238.40 L310.74,238.90 L310.77,239.40 L310.79,239.90 L310.82,240.39 L310.85,240.89 L310.88,241.39 L310.91,241.89 L310.95,242.39 L310.99,242.89 L311.04,243.43 L311.10,244.07 L311.17,244.72 L311.24,245.28 L311.33,245.67 L311.41,245.80 L311.50,245.66 L311.61,245.32 L311.72,244.83 L311.83,244.24 L311.95,243.59 L312.05,242.95 L312.15,242.35 L312.23,241.83 L312.29,241.34 L312.36,240.84 L312.42,240.34 L312.47,239.85 L312.52,239.35 L312.57,238.85 L312.61,238.35 L312.66,237.85 L312.70,237.35 L312.75,236.85 L312.79,236.35 L312.84,235.85 L312.89,235.36 L312.95,234.86 L313.01,234.36 L313.07,233.87 L313.14,233.38 L313.22,232.88 L313.31,232.32 L313.41,231.70 L313.53,231.05 L313.65,230.43 L313.78,229.87 L313.92,229.42 L314.06,229.11 L314.20,229.00 L314.35,229.13 L314.52,229.49 L314.69,230.02 L314.87,230.62 L315.03,231.25 L315.16,231.83 L315.27,232.32 L315.37,232.81 L315.46,233.29 L315.54,233.78 L315.62,234.28 L315.70,234.77 L315.77,235.27 L315.84,235.76 L315.91,236.26 L315.97,236.76 L316.04,237.26 L316.10,237.75 L316.16,238.25 L316.23,238.75 L316.29,239.25 L316.36,239.74 L316.43,240.24 L316.50,240.73 L316.57,241.23 L316.64,241.72 L316.71,242.22 L316.77,242.71 L316.84,243.21 L316.91,243.71 L316.98,244.20 L317.05,244.70 L317.12,245.19 L317.19,245.69 L317.27,246.18 L317.35,246.67 L317.43,247.17 L317.52,247.75 L317.61,248.38 L317.71,249.03 L317.81,249.66 L317.91,250.21 L318.01,250.65 L318.11,250.92 L318.22,251.00 L318.33,250.86 L318.44,250.56 L318.56,250.12 L318.67,249.58 L318.79,248.96 L318.90,248.32 L319.01,247.67 L319.11,247.06 L319.20,246.52 L319.28,246.03 L319.36,245.54 L319.43,245.04 L319.50,244.55 L319.57,244.05 L319.64,243.56 L319.70,243.06 L319.77,242.57 L319.83,242.07 L319.89,241.57 L319.95,241.08 L320.00,240.58 L320.06,240.08 L320.12,239.58 L320.17,239.09 L320.23,238.59 L320.29,238.09 L320.35,237.60 L320.40,237.10 L320.46,236.60 L320.52,236.11 L320.58,235.61 L320.63,235.11 L320.69,234.62 L320.74,234.12 L320.80,233.62 L320.85,233.12 L320.90,232.63 L320.95,232.13 L321.00,231.63 L321.05,231.14 L321.10,230.64 L321.14,230.14 L321.19,229.64 L321.23,229.14 L321.27,228.65 L321.30,228.15 L321.34,227.65 L321.37,227.15 L321.40,226.65 L321.43,226.14 L321.45,225.64 L321.48,225.14 L321.51,224.64 L321.54,224.14 L321.57,223.64 L321.60,223.14 L321.63,222.64 L321.66,222.15 L321.70,221.65 L321.74,221.15 L321.78,220.65 L321.83,220.16 L321.88,219.67 L321.94,219.17 L322.00,218.66 L322.07,218.15 L322.15,217.64 L322.23,217.12 L322.33,216.60 L322.43,216.10 L322.54,215.60 L322.67,215.11 L322.81,214.64 L322.96,214.20 L323.13,213.77 L323.32,213.35 L323.63,212.88 L324.00,212.44 L324.41,212.08 L324.81,211.91 L325.21,211.98 L325.64,212.26 L326.06,212.64 L326.42,213.02 L326.71,213.39 L326.97,213.79 L327.22,214.23 L327.44,214.68 L327.66,215.15 L327.88,215.62 L328.09,216.09 L328.32,216.54 L328.55,216.98 L328.77,217.43 L328.99,217.88 L329.20,218.33 L329.42,218.78 L329.64,219.23 L329.87,219.68 L330.10,220.12 L330.34,220.56 L330.58,221.00 L330.82,221.45 L331.06,221.90 L331.30,222.35 L331.56,222.78 L331.83,223.20 L332.11,223.61 L332.41,223.99 L332.73,224.36 L333.08,224.74 L333.45,225.12 L333.85,225.46 L334.26,225.75 L334.68,225.96 L335.13,226.10 L335.62,226.21 L336.13,226.31 L336.64,226.38 L337.13,226.40 L337.61,226.33 L338.09,226.17 L338.56,225.95 L339.02,225.71 L339.45,225.47 L339.87,225.22 L340.27,224.92 L340.66,224.60 L341.04,224.27 L341.43,223.93 L341.81,223.61 L342.18,223.28 L342.55,222.94 L342.92,222.60 L343.29,222.26 L343.65,221.92 L344.02,221.58 L344.40,221.25 L344.78,220.93 L345.17,220.62 L345.56,220.30 L345.95,219.98 L346.35,219.67 L346.75,219.37 L347.16,219.09 L347.58,218.82 L348.01,218.58 L348.45,218.32 L348.90,218.05 L349.36,217.81 L349.83,217.60 L350.30,217.46 L350.77,217.40 L351.27,217.40 L351.77,217.40 L352.28,217.40 L352.78,217.40 L353.27,217.41 L353.74,217.51 L354.22,217.71 L354.68,217.96 L355.12,218.23 L355.54,218.48 L355.94,218.76 L356.33,219.06 L356.72,219.39 L357.09,219.74 L357.45,220.09 L357.80,220.46 L358.15,220.83 L358.49,221.19 L358.82,221.56 L359.14,221.94 L359.46,222.33 L359.77,222.72 L360.07,223.12 L360.37,223.53 L360.66,223.94 L360.95,224.35 L361.23,224.76 L361.52,225.17 L361.79,225.59 L362.06,226.01 L362.33,226.43 L362.59,226.85 L362.85,227.28 L363.10,227.71 L363.35,228.15 L363.60,228.58 L363.85,229.02 L364.10,229.45 L364.34,229.89 L364.59,230.33 L364.83,230.76 L365.08,231.20 L365.32,231.64 L365.56,232.07 L365.79,232.52 L366.03,232.96 L366.26,233.40 L366.50,233.84 L366.73,234.28 L366.97,234.72 L367.20,235.16 L367.44,235.60 L367.68,236.04 L367.93,236.48 L368.18,236.91 L368.43,237.34 L368.68,237.78 L368.93,238.21 L369.18,238.64 L369.43,239.08 L369.69,239.51 L369.95,239.93 L370.21,240.36 L370.47,240.78 L370.74,241.20 L371.02,241.62 L371.29,242.04 L371.57,242.45 L371.85,242.87 L372.13,243.29 L372.42,243.71 L372.71,244.12 L373.00,244.53 L373.31,244.93 L373.62,245.32 L373.94,245.70 L374.27,246.06 L374.61,246.42 L374.96,246.78 L375.33,247.14 L375.71,247.49 L376.10,247.83 L376.50,248.14 L376.91,248.42 L377.33,248.67 L377.76,248.87 L378.21,249.07 L378.68,249.26 L379.16,249.44 L379.65,249.60 L380.15,249.74 L380.64,249.84 L381.13,249.89 L381.62,249.89 L382.10,249.84 L382.59,249.73 L383.08,249.59 L383.56,249.42 L384.04,249.23 L384.51,249.04 L384.98,248.85 L385.43,248.66 L385.87,248.45 L386.31,248.22 L386.75,247.97 L387.18,247.70 L387.60,247.43 L388.02,247.15 L388.44,246.86 L388.85,246.57 L389.27,246.29 L389.68,246.01 L390.09,245.72 L390.49,245.43 L390.90,245.13 L391.30,244.83 L391.69,244.53 L392.09,244.22 L392.48,243.91 L392.87,243.59 L393.26,243.28 L393.64,242.96 L394.03,242.64 L394.41,242.32 L394.79,241.99 L395.16,241.66 L395.54,241.33 L395.91,241.00 L396.28,240.66 L396.65,240.33 L397.02,239.99 L397.39,239.66 L397.77,239.32 L398.14,238.99 L398.51,238.65 L398.88,238.32 L399.25,237.98 L399.62,237.65 L399.99,237.31 L400.36,236.97 L400.73,236.64 L401.10,236.30" fill="none" stroke="#ff0000" stroke-width="3.0" stroke-linejoin="round" stroke-linecap="round"/>
<rect x="303.2" y="193.8" width="104.0" height="71.2" fill="none" stroke="#505050" stroke-width="1.35"/>
<path d="M303.2,211.6h1.8 M303.2,229.4h1.8 M303.2,247.2h1.8 M306.2,265.0v-1.8 M316.7,265.0v-1.8 M327.2,265.0v-1.8 M337.7,265.0v-1.8 M348.2,265.0v-1.8 M358.7,265.0v-1.8 M369.2,265.0v-1.8 M379.7,265.0v-1.8 M390.2,265.0v-1.8 M400.7,265.0v-1.8" stroke="#505050" stroke-width="1"/>
<text x="301.25" y="197.00" text-anchor="end" class="t">0.0</text>
<text x="301.25" y="233.00" text-anchor="end" class="t">-0.6</text>
<text x="301.25" y="268.50" text-anchor="end" class="t">-1.2</text>
<text x="380.70" y="211.00" class="m" transform="translate(381.60,0) scale(0.96,1) translate(-381.60,0)">M</text>
<text x="393.30" y="216.10" class="s" textLength="9.9" lengthAdjust="spacingAndGlyphs">33</text>
<g fill="none" stroke="#1010ff" stroke-width="1.5"><circle cx="441.20" cy="199.50" r="1.7"/><circle cx="442.62" cy="208.28" r="1.7"/><circle cx="444.04" cy="216.16" r="1.7"/><circle cx="445.46" cy="234.22" r="1.7"/><circle cx="446.88" cy="246.44" r="1.7"/><circle cx="448.30" cy="250.64" r="1.7"/><circle cx="449.72" cy="250.97" r="1.7"/><circle cx="451.14" cy="246.10" r="1.7"/><circle cx="452.56" cy="228.66" r="1.7"/><circle cx="453.98" cy="210.31" r="1.7"/><circle cx="455.40" cy="204.10" r="1.7"/><circle cx="456.82" cy="200.90" r="1.7"/><circle cx="458.24" cy="201.36" r="1.7"/><circle cx="459.66" cy="202.68" r="1.7"/><circle cx="461.08" cy="205.14" r="1.7"/><circle cx="462.50" cy="208.89" r="1.7"/><circle cx="463.92" cy="213.05" r="1.7"/><circle cx="465.34" cy="217.27" r="1.7"/><circle cx="466.76" cy="220.68" r="1.7"/><circle cx="468.18" cy="224.16" r="1.7"/><circle cx="469.60" cy="227.92" r="1.7"/><circle cx="471.02" cy="231.98" r="1.7"/><circle cx="472.44" cy="235.83" r="1.7"/><circle cx="473.86" cy="239.43" r="1.7"/><circle cx="475.28" cy="242.41" r="1.7"/><circle cx="476.70" cy="245.02" r="1.7"/><circle cx="478.12" cy="247.58" r="1.7"/><circle cx="479.54" cy="249.93" r="1.7"/><circle cx="480.96" cy="251.78" r="1.7"/><circle cx="482.38" cy="253.36" r="1.7"/><circle cx="483.80" cy="254.46" r="1.7"/><circle cx="485.22" cy="255.20" r="1.7"/><circle cx="486.64" cy="255.79" r="1.7"/><circle cx="488.06" cy="256.16" r="1.7"/><circle cx="490.60" cy="256.51" r="1.7"/><circle cx="494.14" cy="256.68" r="1.7"/><circle cx="497.68" cy="255.19" r="1.7"/><circle cx="501.22" cy="251.48" r="1.7"/><circle cx="504.76" cy="246.53" r="1.7"/><circle cx="508.30" cy="239.40" r="1.7"/><circle cx="511.84" cy="231.88" r="1.7"/><circle cx="515.38" cy="228.45" r="1.7"/><circle cx="518.92" cy="221.25" r="1.7"/><circle cx="522.46" cy="215.55" r="1.7"/><circle cx="526.00" cy="210.29" r="1.7"/><circle cx="529.54" cy="206.37" r="1.7"/><circle cx="533.08" cy="203.48" r="1.7"/></g>
<path d="M442.60,195.80 L442.67,196.30 L442.73,196.79 L442.79,197.29 L442.86,197.78 L442.92,198.28 L442.98,198.78 L443.04,199.27 L443.10,199.77 L443.16,200.26 L443.22,200.76 L443.28,201.26 L443.34,201.75 L443.39,202.25 L443.45,202.75 L443.50,203.24 L443.56,203.74 L443.61,204.24 L443.67,204.73 L443.72,205.23 L443.77,205.73 L443.82,206.23 L443.87,206.72 L443.92,207.22 L443.97,207.72 L444.02,208.22 L444.07,208.71 L444.12,209.21 L444.17,209.71 L444.21,210.21 L444.26,210.70 L444.30,211.20 L444.35,211.70 L444.39,212.20 L444.43,212.70 L444.48,213.19 L444.52,213.69 L444.55,214.19 L444.59,214.69 L444.63,215.19 L444.67,215.69 L444.71,216.18 L444.74,216.68 L444.78,217.18 L444.81,217.68 L444.85,218.18 L444.89,218.68 L444.92,219.18 L444.96,219.67 L445.00,220.17 L445.04,220.67 L445.07,221.17 L445.11,221.67 L445.15,222.17 L445.20,222.66 L445.24,223.16 L445.28,223.66 L445.33,224.16 L445.37,224.66 L445.41,225.16 L445.46,225.65 L445.50,226.15 L445.54,226.65 L445.59,227.15 L445.63,227.65 L445.67,228.14 L445.70,228.64 L445.74,229.14 L445.78,229.64 L445.81,230.14 L445.84,230.64 L445.87,231.14 L445.90,231.63 L445.92,232.13 L445.95,232.63 L445.97,233.13 L445.99,233.63 L446.02,234.13 L446.04,234.63 L446.06,235.13 L446.08,235.63 L446.11,236.13 L446.13,236.63 L446.16,237.13 L446.19,237.63 L446.21,238.13 L446.24,238.63 L446.27,239.12 L446.31,239.62 L446.34,240.12 L446.38,240.62 L446.42,241.12 L446.46,241.62 L446.50,242.12 L446.54,242.62 L446.59,243.11 L446.63,243.61 L446.68,244.11 L446.73,244.61 L446.78,245.11 L446.84,245.60 L446.89,246.10 L446.95,246.60 L447.01,247.09 L447.08,247.59 L447.14,248.08 L447.21,248.58 L447.28,249.07 L447.36,249.57 L447.44,250.06 L447.52,250.56 L447.62,251.06 L447.72,251.55 L447.82,252.05 L447.94,252.53 L448.06,253.02 L448.19,253.50 L448.33,253.97 L448.48,254.45 L448.69,255.03 L448.94,255.60 L449.19,256.03 L449.41,256.20 L449.61,256.07 L449.81,255.73 L450.02,255.23 L450.20,254.65 L450.37,254.02 L450.51,253.43 L450.62,252.91 L450.70,252.43 L450.78,251.94 L450.86,251.45 L450.92,250.96 L450.99,250.46 L451.05,249.97 L451.10,249.47 L451.15,248.97 L451.20,248.47 L451.24,247.96 L451.29,247.46 L451.33,246.96 L451.37,246.46 L451.42,245.96 L451.46,245.46 L451.50,244.96 L451.55,244.46 L451.59,243.96 L451.63,243.46 L451.67,242.97 L451.72,242.47 L451.75,241.97 L451.79,241.47 L451.83,240.97 L451.87,240.47 L451.91,239.98 L451.94,239.48 L451.98,238.98 L452.01,238.48 L452.05,237.98 L452.08,237.48 L452.11,236.98 L452.15,236.48 L452.18,235.98 L452.21,235.49 L452.24,234.99 L452.27,234.49 L452.30,233.99 L452.33,233.49 L452.36,232.99 L452.39,232.49 L452.41,231.99 L452.44,231.49 L452.46,230.99 L452.49,230.49 L452.51,230.00 L452.54,229.50 L452.56,229.00 L452.58,228.50 L452.61,228.00 L452.63,227.50 L452.65,227.00 L452.67,226.50 L452.70,226.00 L452.72,225.50 L452.74,225.00 L452.77,224.50 L452.79,224.00 L452.82,223.50 L452.85,223.00 L452.87,222.51 L452.90,222.01 L452.93,221.51 L452.96,221.01 L452.98,220.51 L453.01,220.01 L453.04,219.51 L453.07,219.01 L453.10,218.51 L453.13,218.01 L453.16,217.51 L453.19,217.01 L453.22,216.52 L453.25,216.02 L453.28,215.52 L453.31,215.02 L453.34,214.52 L453.38,214.02 L453.41,213.52 L453.45,213.02 L453.48,212.53 L453.52,212.03 L453.56,211.53 L453.60,211.03 L453.64,210.53 L453.68,210.03 L453.72,209.53 L453.76,209.03 L453.80,208.54 L453.84,208.04 L453.89,207.54 L453.94,207.04 L453.99,206.54 L454.04,206.04 L454.09,205.54 L454.15,205.05 L454.21,204.55 L454.28,204.06 L454.35,203.57 L454.42,203.08 L454.50,202.58 L454.58,202.07 L454.68,201.56 L454.79,201.05 L454.90,200.55 L455.04,200.06 L455.18,199.59 L455.35,199.15 L455.54,198.72 L455.81,198.25 L456.17,197.79 L456.56,197.47 L456.93,197.42 L457.32,197.61 L457.71,197.96 L458.10,198.38 L458.46,198.82 L458.76,199.20 L459.04,199.60 L459.30,200.02 L459.55,200.45 L459.79,200.90 L460.02,201.35 L460.24,201.81 L460.46,202.27 L460.68,202.73 L460.89,203.18 L461.11,203.63 L461.31,204.09 L461.52,204.54 L461.72,205.00 L461.92,205.46 L462.11,205.92 L462.30,206.38 L462.49,206.84 L462.68,207.31 L462.87,207.77 L463.05,208.24 L463.24,208.70 L463.43,209.17 L463.61,209.63 L463.80,210.09 L463.98,210.56 L464.17,211.02 L464.35,211.49 L464.53,211.96 L464.71,212.42 L464.89,212.89 L465.06,213.36 L465.24,213.82 L465.42,214.29 L465.59,214.76 L465.77,215.23 L465.95,215.70 L466.12,216.16 L466.30,216.63 L466.48,217.10 L466.65,217.57 L466.83,218.03 L467.01,218.50 L467.19,218.97 L467.37,219.44 L467.55,219.90 L467.72,220.37 L467.90,220.84 L468.08,221.31 L468.25,221.78 L468.42,222.24 L468.59,222.72 L468.75,223.19 L468.92,223.66 L469.08,224.13 L469.23,224.61 L469.38,225.08 L469.53,225.56 L469.67,226.04 L469.81,226.52 L469.95,227.00 L470.09,227.48 L470.24,227.96 L470.38,228.44 L470.54,228.91 L470.69,229.39 L470.84,229.86 L471.00,230.34 L471.15,230.82 L471.31,231.29 L471.47,231.77 L471.63,232.24 L471.79,232.71 L471.96,233.18 L472.13,233.66 L472.30,234.12 L472.47,234.59 L472.65,235.06 L472.83,235.52 L473.01,235.99 L473.19,236.45 L473.38,236.92 L473.57,237.38 L473.77,237.84 L473.97,238.30 L474.17,238.76 L474.37,239.22 L474.58,239.67 L474.79,240.13 L475.00,240.58 L475.22,241.03 L475.44,241.48 L475.66,241.92 L475.89,242.37 L476.12,242.81 L476.35,243.25 L476.59,243.70 L476.83,244.14 L477.08,244.58 L477.33,245.01 L477.58,245.45 L477.84,245.88 L478.10,246.30 L478.36,246.73 L478.63,247.15 L478.90,247.56 L479.18,247.97 L479.46,248.38 L479.75,248.79 L480.05,249.19 L480.34,249.60 L480.65,250.00 L480.96,250.40 L481.27,250.79 L481.59,251.18 L481.92,251.56 L482.24,251.94 L482.58,252.32 L482.92,252.69 L483.26,253.05 L483.60,253.40 L483.95,253.75 L484.31,254.11 L484.67,254.47 L485.04,254.83 L485.41,255.19 L485.79,255.53 L486.17,255.87 L486.57,256.19 L486.97,256.50 L487.37,256.78 L487.79,257.03 L488.21,257.26 L488.64,257.46 L489.09,257.67 L489.55,257.87 L490.02,258.07 L490.50,258.27 L490.98,258.44 L491.47,258.61 L491.97,258.74 L492.46,258.86 L492.96,258.94 L493.45,258.99 L493.93,259.00 L494.42,258.97 L494.91,258.92 L495.41,258.83 L495.91,258.73 L496.41,258.60 L496.91,258.46 L497.39,258.31 L497.87,258.15 L498.34,257.99 L498.79,257.83 L499.23,257.64 L499.67,257.41 L500.10,257.15 L500.53,256.87 L500.95,256.57 L501.36,256.25 L501.76,255.93 L502.14,255.60 L502.51,255.28 L502.87,254.95 L503.22,254.60 L503.56,254.24 L503.90,253.86 L504.22,253.47 L504.54,253.08 L504.85,252.67 L505.15,252.27 L505.44,251.86 L505.73,251.46 L506.01,251.05 L506.29,250.63 L506.55,250.21 L506.81,249.79 L507.07,249.36 L507.32,248.93 L507.57,248.49 L507.82,248.06 L508.06,247.62 L508.31,247.18 L508.55,246.74 L508.79,246.30 L509.03,245.86 L509.28,245.42 L509.52,244.99 L509.76,244.55 L510.01,244.11 L510.25,243.68 L510.49,243.24 L510.73,242.80 L510.97,242.36 L511.21,241.92 L511.44,241.48 L511.68,241.04 L511.91,240.60 L512.15,240.16 L512.38,239.71 L512.62,239.27 L512.85,238.83 L513.08,238.39 L513.32,237.95 L513.55,237.50 L513.78,237.06 L514.01,236.62 L514.24,236.17 L514.47,235.73 L514.70,235.28 L514.92,234.84 L515.15,234.39 L515.38,233.95 L515.60,233.50 L515.83,233.05 L516.06,232.61 L516.29,232.16 L516.51,231.72 L516.74,231.28 L516.98,230.83 L517.21,230.39 L517.44,229.95 L517.68,229.51 L517.92,229.07 L518.15,228.63 L518.39,228.19 L518.63,227.75 L518.87,227.31 L519.10,226.87 L519.34,226.43 L519.58,225.99 L519.82,225.55 L520.06,225.12 L520.31,224.68 L520.55,224.24 L520.79,223.80 L521.03,223.36 L521.27,222.93 L521.51,222.49 L521.75,222.05 L522.00,221.61 L522.24,221.18 L522.48,220.74 L522.73,220.30 L522.97,219.87 L523.22,219.43 L523.47,219.00 L523.72,218.57 L523.97,218.14 L524.22,217.70 L524.48,217.27 L524.73,216.84 L524.99,216.41 L525.24,215.98 L525.50,215.55 L525.76,215.13 L526.03,214.70 L526.29,214.28 L526.56,213.86 L526.84,213.44 L527.11,213.02 L527.39,212.60 L527.66,212.18 L527.94,211.76 L528.22,211.33 L528.50,210.91 L528.79,210.50 L529.08,210.09 L529.38,209.70 L529.69,209.31 L530.01,208.93 L530.34,208.57 L530.67,208.22 L531.02,207.87 L531.38,207.53 L531.75,207.20 L532.12,206.87 L532.51,206.55 L532.91,206.24 L533.31,205.94 L533.72,205.64 L534.14,205.35 L534.57,205.07 L535.00,204.80" fill="none" stroke="#ff0000" stroke-width="3.0" stroke-linejoin="round" stroke-linecap="round"/>
<rect x="437.0" y="193.8" width="104.6" height="71.2" fill="none" stroke="#505050" stroke-width="1.35"/>
<path d="M437.0,211.6h1.8 M437.0,229.4h1.8 M437.0,247.2h1.8 M440.0,265.0v-1.8 M450.5,265.0v-1.8 M461.0,265.0v-1.8 M471.5,265.0v-1.8 M482.0,265.0v-1.8 M492.5,265.0v-1.8 M503.0,265.0v-1.8 M513.5,265.0v-1.8 M524.0,265.0v-1.8 M534.5,265.0v-1.8" stroke="#505050" stroke-width="1"/>
<text x="435.05" y="197.00" text-anchor="end" class="t">1</text>
<text x="435.05" y="233.00" text-anchor="end" class="t">0</text>
<text x="435.05" y="268.50" text-anchor="end" class="t">-1</text>
<text x="515.40" y="258.20" class="m" transform="translate(516.30,0) scale(0.96,1) translate(-516.30,0)">M</text>
<text x="528.00" y="263.00" class="s" textLength="10.2" lengthAdjust="spacingAndGlyphs">34</text>
<g fill="none" stroke="#1010ff" stroke-width="1.5"><circle cx="39.50" cy="319.05" r="1.7"/><circle cx="40.92" cy="319.29" r="1.7"/><circle cx="42.34" cy="319.57" r="1.7"/><circle cx="43.76" cy="319.88" r="1.7"/><circle cx="45.18" cy="320.24" r="1.7"/><circle cx="46.60" cy="320.77" r="1.7"/><circle cx="48.02" cy="321.33" r="1.7"/><circle cx="49.44" cy="321.74" r="1.7"/><circle cx="50.86" cy="321.83" r="1.7"/><circle cx="52.28" cy="321.40" r="1.7"/><circle cx="53.70" cy="320.67" r="1.7"/><circle cx="55.12" cy="319.98" r="1.7"/><circle cx="56.54" cy="319.65" r="1.7"/><circle cx="57.96" cy="319.60" r="1.7"/><circle cx="59.38" cy="319.55" r="1.7"/><circle cx="60.80" cy="319.51" r="1.7"/><circle cx="62.22" cy="319.48" r="1.7"/><circle cx="63.64" cy="319.45" r="1.7"/><circle cx="65.06" cy="319.42" r="1.7"/><circle cx="66.48" cy="319.40" r="1.7"/><circle cx="67.90" cy="319.38" r="1.7"/><circle cx="69.32" cy="319.37" r="1.7"/><circle cx="70.74" cy="319.36" r="1.7"/><circle cx="72.16" cy="319.35" r="1.7"/><circle cx="73.58" cy="319.35" r="1.7"/><circle cx="75.00" cy="319.35" r="1.7"/><circle cx="76.42" cy="319.41" r="1.7"/><circle cx="77.84" cy="319.52" r="1.7"/><circle cx="79.26" cy="319.65" r="1.7"/><circle cx="80.68" cy="319.79" r="1.7"/><circle cx="82.10" cy="319.92" r="1.7"/><circle cx="83.52" cy="320.02" r="1.7"/><circle cx="84.94" cy="320.06" r="1.7"/><circle cx="86.36" cy="320.08" r="1.7"/><circle cx="88.10" cy="320.11" r="1.7"/><circle cx="91.64" cy="320.17" r="1.7"/><circle cx="95.18" cy="320.22" r="1.7"/><circle cx="98.72" cy="320.27" r="1.7"/><circle cx="102.26" cy="320.31" r="1.7"/><circle cx="105.80" cy="320.34" r="1.7"/><circle cx="109.34" cy="320.37" r="1.7"/><circle cx="112.88" cy="320.40" r="1.7"/><circle cx="116.42" cy="320.42" r="1.7"/><circle cx="119.96" cy="320.43" r="1.7"/><circle cx="123.50" cy="320.44" r="1.7"/><circle cx="127.04" cy="320.45" r="1.7"/><circle cx="130.58" cy="320.45" r="1.7"/></g>
<path d="M40.00,320.45 L132.50,320.45" fill="none" stroke="#ff0000" stroke-width="3.0" stroke-linecap="round"/>
<rect x="34.5" y="285.1" width="104.8" height="70.7" fill="none" stroke="#505050" stroke-width="1.35"/>
<path d="M34.5,302.8h1.8 M34.5,320.5h1.8 M34.5,338.1h1.8 M44.4,355.8v-1.8 M58.5,355.8v-1.8 M72.5,355.8v-1.8 M86.6,355.8v-1.8 M100.6,355.8v-1.8 M114.7,355.8v-1.8 M128.7,355.8v-1.8" stroke="#505050" stroke-width="1"/>
<text x="32.55" y="288.30" text-anchor="end" class="t">0.1</text>
<text x="32.55" y="324.05" text-anchor="end" class="t">0.0</text>
<text x="32.55" y="359.30" text-anchor="end" class="t">-0.1</text>
<text x="44.4" y="372.1" text-anchor="middle" class="t">400</text>
<text x="72.5" y="372.1" text-anchor="middle" class="t">800</text>
<text x="100.6" y="372.1" text-anchor="middle" class="t">1200</text>
<text x="128.7" y="372.1" text-anchor="middle" class="t">1600</text>
<text x="47.50" y="383.40" class="w" textLength="86.6" lengthAdjust="spacingAndGlyphs">Wavelength (nm)</text>
<text x="113.20" y="301.50" class="m" transform="translate(114.10,0) scale(0.96,1) translate(-114.10,0)">M</text>
<text x="125.60" y="306.80" class="s" textLength="9.2" lengthAdjust="spacingAndGlyphs">41</text>
<g fill="none" stroke="#1010ff" stroke-width="1.5"><circle cx="173.60" cy="320.45" r="1.7"/><circle cx="175.02" cy="321.40" r="1.7"/><circle cx="176.44" cy="323.29" r="1.7"/><circle cx="177.86" cy="325.06" r="1.7"/><circle cx="179.28" cy="325.43" r="1.7"/><circle cx="180.70" cy="324.88" r="1.7"/><circle cx="182.12" cy="324.53" r="1.7"/><circle cx="183.54" cy="324.95" r="1.7"/><circle cx="184.96" cy="323.85" r="1.7"/><circle cx="186.38" cy="320.95" r="1.7"/><circle cx="187.80" cy="319.66" r="1.7"/><circle cx="189.22" cy="319.75" r="1.7"/><circle cx="190.64" cy="319.85" r="1.7"/><circle cx="192.06" cy="319.92" r="1.7"/><circle cx="193.48" cy="319.97" r="1.7"/><circle cx="194.90" cy="320.03" r="1.7"/><circle cx="196.32" cy="320.10" r="1.7"/><circle cx="197.74" cy="320.18" r="1.7"/><circle cx="199.16" cy="320.32" r="1.7"/><circle cx="200.58" cy="320.66" r="1.7"/><circle cx="202.00" cy="321.06" r="1.7"/><circle cx="203.42" cy="321.33" r="1.7"/><circle cx="204.84" cy="321.44" r="1.7"/><circle cx="206.26" cy="321.52" r="1.7"/><circle cx="207.68" cy="321.60" r="1.7"/><circle cx="209.10" cy="321.66" r="1.7"/><circle cx="210.52" cy="321.71" r="1.7"/><circle cx="211.94" cy="321.74" r="1.7"/><circle cx="213.36" cy="321.75" r="1.7"/><circle cx="214.78" cy="321.75" r="1.7"/><circle cx="216.20" cy="321.75" r="1.7"/><circle cx="217.62" cy="321.75" r="1.7"/><circle cx="219.04" cy="321.75" r="1.7"/><circle cx="220.46" cy="321.75" r="1.7"/><circle cx="222.20" cy="321.75" r="1.7"/><circle cx="225.74" cy="321.74" r="1.7"/><circle cx="229.28" cy="321.71" r="1.7"/><circle cx="232.82" cy="321.66" r="1.7"/><circle cx="236.36" cy="321.58" r="1.7"/><circle cx="239.90" cy="321.43" r="1.7"/><circle cx="243.44" cy="321.26" r="1.7"/><circle cx="246.98" cy="321.09" r="1.7"/><circle cx="250.52" cy="320.88" r="1.7"/><circle cx="254.06" cy="320.61" r="1.7"/><circle cx="257.60" cy="320.16" r="1.7"/><circle cx="261.14" cy="319.54" r="1.7"/><circle cx="264.68" cy="318.63" r="1.7"/></g>
<path d="M174.10,320.45 L266.60,320.45" fill="none" stroke="#ff0000" stroke-width="3.0" stroke-linecap="round"/>
<rect x="168.6" y="285.1" width="104.8" height="70.7" fill="none" stroke="#505050" stroke-width="1.35"/>
<path d="M168.6,302.8h1.8 M168.6,320.5h1.8 M168.6,338.1h1.8 M178.5,355.8v-1.8 M192.6,355.8v-1.8 M206.6,355.8v-1.8 M220.7,355.8v-1.8 M234.7,355.8v-1.8 M248.8,355.8v-1.8 M262.8,355.8v-1.8" stroke="#505050" stroke-width="1"/>
<text x="166.65" y="288.30" text-anchor="end" class="t">0.1</text>
<text x="166.65" y="324.05" text-anchor="end" class="t">0.0</text>
<text x="166.65" y="359.30" text-anchor="end" class="t">-0.1</text>
<text x="178.5" y="372.1" text-anchor="middle" class="t">400</text>
<text x="206.6" y="372.1" text-anchor="middle" class="t">800</text>
<text x="234.7" y="372.1" text-anchor="middle" class="t">1200</text>
<text x="262.8" y="372.1" text-anchor="middle" class="t">1600</text>
<text x="181.60" y="383.40" class="w" textLength="86.6" lengthAdjust="spacingAndGlyphs">Wavelength (nm)</text>
<text x="246.90" y="301.50" class="m" transform="translate(247.80,0) scale(0.96,1) translate(-247.80,0)">M</text>
<text x="259.00" y="306.80" class="s" textLength="9.9" lengthAdjust="spacingAndGlyphs">42</text>
<g fill="none" stroke="#1010ff" stroke-width="1.5"><circle cx="307.10" cy="349.20" r="1.7"/><circle cx="308.52" cy="342.80" r="1.7"/><circle cx="309.94" cy="333.06" r="1.7"/><circle cx="311.36" cy="314.10" r="1.7"/><circle cx="312.78" cy="300.15" r="1.7"/><circle cx="314.20" cy="296.87" r="1.7"/><circle cx="315.62" cy="296.75" r="1.7"/><circle cx="317.04" cy="300.19" r="1.7"/><circle cx="318.46" cy="311.69" r="1.7"/><circle cx="319.88" cy="337.36" r="1.7"/><circle cx="321.30" cy="344.78" r="1.7"/><circle cx="322.72" cy="347.69" r="1.7"/><circle cx="324.14" cy="346.13" r="1.7"/><circle cx="325.56" cy="342.58" r="1.7"/><circle cx="326.98" cy="338.28" r="1.7"/><circle cx="328.40" cy="334.60" r="1.7"/><circle cx="329.82" cy="331.63" r="1.7"/><circle cx="331.24" cy="328.62" r="1.7"/><circle cx="332.66" cy="325.54" r="1.7"/><circle cx="334.08" cy="322.46" r="1.7"/><circle cx="335.50" cy="319.40" r="1.7"/><circle cx="336.92" cy="316.29" r="1.7"/><circle cx="338.34" cy="313.13" r="1.7"/><circle cx="339.76" cy="309.89" r="1.7"/><circle cx="341.18" cy="306.37" r="1.7"/><circle cx="342.60" cy="303.19" r="1.7"/><circle cx="344.02" cy="300.76" r="1.7"/><circle cx="345.44" cy="298.77" r="1.7"/><circle cx="346.86" cy="297.15" r="1.7"/><circle cx="348.28" cy="295.78" r="1.7"/><circle cx="349.70" cy="294.57" r="1.7"/><circle cx="351.12" cy="293.49" r="1.7"/><circle cx="352.54" cy="292.68" r="1.7"/><circle cx="353.96" cy="291.99" r="1.7"/><circle cx="355.38" cy="291.54" r="1.7"/><circle cx="356.80" cy="291.61" r="1.7"/><circle cx="360.34" cy="292.90" r="1.7"/><circle cx="363.88" cy="294.09" r="1.7"/><circle cx="367.42" cy="297.27" r="1.7"/><circle cx="370.96" cy="301.23" r="1.7"/><circle cx="374.50" cy="307.94" r="1.7"/><circle cx="378.04" cy="314.72" r="1.7"/><circle cx="381.58" cy="323.17" r="1.7"/><circle cx="385.12" cy="329.26" r="1.7"/><circle cx="388.66" cy="335.57" r="1.7"/><circle cx="392.20" cy="339.89" r="1.7"/><circle cx="395.74" cy="343.26" r="1.7"/><circle cx="399.28" cy="345.96" r="1.7"/></g>
<path d="M308.80,353.50 L308.85,353.00 L308.89,352.51 L308.94,352.01 L308.99,351.51 L309.03,351.01 L309.08,350.52 L309.12,350.02 L309.17,349.52 L309.21,349.02 L309.26,348.53 L309.30,348.03 L309.35,347.53 L309.39,347.03 L309.43,346.53 L309.48,346.04 L309.52,345.54 L309.56,345.04 L309.61,344.54 L309.65,344.05 L309.69,343.55 L309.73,343.05 L309.77,342.55 L309.81,342.06 L309.85,341.56 L309.89,341.06 L309.93,340.56 L309.97,340.06 L310.01,339.57 L310.05,339.07 L310.09,338.57 L310.12,338.07 L310.16,337.57 L310.20,337.07 L310.23,336.58 L310.27,336.08 L310.30,335.58 L310.34,335.08 L310.37,334.58 L310.41,334.08 L310.44,333.59 L310.47,333.09 L310.51,332.59 L310.54,332.09 L310.57,331.59 L310.61,331.09 L310.64,330.60 L310.67,330.10 L310.71,329.60 L310.74,329.10 L310.77,328.60 L310.81,328.10 L310.84,327.61 L310.87,327.11 L310.91,326.61 L310.94,326.11 L310.98,325.61 L311.01,325.11 L311.05,324.61 L311.08,324.12 L311.12,323.62 L311.15,323.12 L311.19,322.62 L311.23,322.12 L311.26,321.63 L311.30,321.13 L311.34,320.63 L311.37,320.13 L311.41,319.63 L311.44,319.13 L311.48,318.63 L311.51,318.14 L311.55,317.64 L311.58,317.14 L311.62,316.64 L311.65,316.14 L311.69,315.64 L311.72,315.14 L311.76,314.64 L311.80,314.15 L311.83,313.65 L311.87,313.15 L311.91,312.65 L311.95,312.15 L311.99,311.65 L312.03,311.16 L312.07,310.66 L312.11,310.16 L312.16,309.66 L312.20,309.17 L312.25,308.67 L312.29,308.17 L312.34,307.67 L312.39,307.18 L312.44,306.68 L312.49,306.19 L312.55,305.69 L312.60,305.20 L312.66,304.70 L312.71,304.20 L312.77,303.70 L312.83,303.20 L312.89,302.70 L312.96,302.20 L313.02,301.70 L313.10,301.20 L313.17,300.70 L313.25,300.20 L313.33,299.71 L313.42,299.21 L313.51,298.72 L313.61,298.24 L313.72,297.76 L313.83,297.28 L313.95,296.80 L314.08,296.31 L314.26,295.74 L314.47,295.14 L314.70,294.59 L314.94,294.19 L315.17,294.00 L315.39,294.10 L315.63,294.44 L315.87,294.95 L316.09,295.54 L316.28,296.13 L316.41,296.65 L316.51,297.12 L316.60,297.60 L316.69,298.08 L316.77,298.56 L316.84,299.05 L316.91,299.54 L316.98,300.03 L317.04,300.52 L317.10,301.02 L317.16,301.52 L317.21,302.02 L317.26,302.52 L317.31,303.02 L317.35,303.53 L317.40,304.03 L317.44,304.54 L317.48,305.04 L317.52,305.55 L317.56,306.05 L317.61,306.56 L317.65,307.06 L317.69,307.56 L317.74,308.06 L317.79,308.56 L317.83,309.06 L317.88,309.55 L317.93,310.05 L317.97,310.55 L318.02,311.05 L318.06,311.54 L318.11,312.04 L318.15,312.54 L318.19,313.04 L318.23,313.53 L318.27,314.03 L318.32,314.53 L318.36,315.03 L318.40,315.53 L318.44,316.02 L318.48,316.52 L318.52,317.02 L318.56,317.52 L318.60,318.02 L318.64,318.51 L318.68,319.01 L318.72,319.51 L318.76,320.01 L318.80,320.51 L318.84,321.00 L318.88,321.50 L318.92,322.00 L318.96,322.50 L319.00,323.00 L319.04,323.49 L319.08,323.99 L319.12,324.49 L319.16,324.99 L319.20,325.49 L319.24,325.98 L319.28,326.48 L319.32,326.98 L319.36,327.48 L319.40,327.98 L319.44,328.47 L319.48,328.97 L319.52,329.47 L319.56,329.97 L319.60,330.47 L319.64,330.96 L319.68,331.46 L319.72,331.96 L319.76,332.46 L319.80,332.96 L319.84,333.45 L319.88,333.95 L319.92,334.45 L319.96,334.95 L320.00,335.45 L320.04,335.94 L320.09,336.44 L320.13,336.94 L320.18,337.44 L320.22,337.93 L320.27,338.43 L320.32,338.93 L320.37,339.42 L320.42,339.92 L320.47,340.42 L320.52,340.92 L320.57,341.42 L320.62,341.92 L320.67,342.42 L320.73,342.92 L320.78,343.42 L320.84,343.92 L320.90,344.42 L320.96,344.92 L321.02,345.41 L321.10,345.91 L321.17,346.40 L321.25,346.89 L321.34,347.37 L321.43,347.86 L321.53,348.34 L321.65,348.90 L321.80,349.51 L321.97,350.12 L322.15,350.69 L322.36,351.16 L322.57,351.48 L322.80,351.60 L323.07,351.50 L323.40,351.23 L323.76,350.84 L324.13,350.37 L324.49,349.87 L324.80,349.37 L325.04,348.92 L325.24,348.50 L325.42,348.05 L325.59,347.60 L325.75,347.13 L325.90,346.66 L326.03,346.17 L326.17,345.68 L326.29,345.19 L326.42,344.69 L326.55,344.20 L326.67,343.70 L326.80,343.21 L326.94,342.72 L327.09,342.23 L327.25,341.76 L327.41,341.29 L327.59,340.82 L327.77,340.36 L327.95,339.89 L328.14,339.43 L328.34,338.97 L328.53,338.51 L328.73,338.05 L328.93,337.59 L329.12,337.13 L329.32,336.67 L329.51,336.21 L329.70,335.75 L329.89,335.28 L330.07,334.82 L330.26,334.35 L330.44,333.89 L330.62,333.42 L330.80,332.96 L330.98,332.49 L331.16,332.03 L331.35,331.56 L331.53,331.10 L331.71,330.63 L331.89,330.17 L332.08,329.70 L332.26,329.24 L332.45,328.78 L332.64,328.31 L332.83,327.85 L333.02,327.39 L333.21,326.93 L333.40,326.47 L333.59,326.00 L333.78,325.54 L333.97,325.08 L334.16,324.62 L334.35,324.16 L334.54,323.69 L334.73,323.23 L334.91,322.77 L335.10,322.30 L335.28,321.84 L335.46,321.37 L335.64,320.90 L335.82,320.44 L336.00,319.97 L336.18,319.51 L336.36,319.04 L336.54,318.58 L336.73,318.11 L336.92,317.65 L337.11,317.19 L337.30,316.73 L337.49,316.27 L337.69,315.81 L337.89,315.35 L338.09,314.89 L338.29,314.43 L338.49,313.98 L338.70,313.52 L338.90,313.06 L339.10,312.61 L339.31,312.15 L339.51,311.70 L339.72,311.24 L339.92,310.78 L340.12,310.33 L340.32,309.87 L340.52,309.41 L340.72,308.95 L340.93,308.50 L341.13,308.04 L341.34,307.59 L341.55,307.13 L341.77,306.68 L341.98,306.23 L342.20,305.79 L342.42,305.33 L342.64,304.88 L342.86,304.42 L343.08,303.97 L343.31,303.52 L343.53,303.07 L343.77,302.63 L344.01,302.19 L344.26,301.76 L344.52,301.33 L344.78,300.92 L345.06,300.52 L345.35,300.12 L345.66,299.73 L345.98,299.35 L346.31,298.98 L346.65,298.61 L347.00,298.24 L347.36,297.88 L347.72,297.53 L348.08,297.18 L348.45,296.84 L348.81,296.50 L349.18,296.16 L349.55,295.81 L349.92,295.45 L350.30,295.10 L350.68,294.75 L351.06,294.41 L351.46,294.07 L351.85,293.75 L352.25,293.45 L352.66,293.17 L353.08,292.91 L353.50,292.68 L353.93,292.47 L354.37,292.29 L354.82,292.12 L355.29,291.94 L355.76,291.77 L356.25,291.60 L356.75,291.45 L357.24,291.32 L357.74,291.20 L358.24,291.11 L358.74,291.04 L359.23,291.01 L359.71,291.00 L360.20,291.04 L360.71,291.10 L361.21,291.20 L361.72,291.32 L362.23,291.46 L362.73,291.63 L363.21,291.80 L363.69,291.99 L364.14,292.19 L364.58,292.39 L364.99,292.59 L365.38,292.82 L365.75,293.09 L366.11,293.40 L366.47,293.74 L366.81,294.11 L367.14,294.51 L367.47,294.92 L367.79,295.34 L368.10,295.77 L368.41,296.20 L368.71,296.63 L369.01,297.04 L369.30,297.44 L369.60,297.84 L369.88,298.24 L370.17,298.65 L370.45,299.07 L370.72,299.48 L370.99,299.90 L371.26,300.33 L371.52,300.76 L371.78,301.18 L372.04,301.62 L372.29,302.05 L372.55,302.48 L372.80,302.92 L373.05,303.35 L373.30,303.79 L373.54,304.22 L373.79,304.65 L374.03,305.09 L374.27,305.53 L374.51,305.97 L374.74,306.41 L374.98,306.85 L375.21,307.29 L375.44,307.73 L375.67,308.18 L375.89,308.63 L376.12,309.07 L376.34,309.52 L376.56,309.97 L376.78,310.42 L377.00,310.87 L377.22,311.32 L377.44,311.76 L377.66,312.21 L377.87,312.67 L378.08,313.12 L378.29,313.57 L378.50,314.03 L378.70,314.48 L378.91,314.94 L379.11,315.39 L379.31,315.85 L379.51,316.31 L379.71,316.77 L379.92,317.22 L380.12,317.68 L380.32,318.14 L380.52,318.59 L380.73,319.05 L380.94,319.50 L381.15,319.96 L381.36,320.41 L381.57,320.86 L381.78,321.31 L381.99,321.77 L382.20,322.22 L382.42,322.68 L382.63,323.13 L382.84,323.58 L383.06,324.04 L383.27,324.49 L383.49,324.94 L383.71,325.39 L383.93,325.83 L384.16,326.28 L384.39,326.72 L384.62,327.16 L384.86,327.60 L385.10,328.03 L385.35,328.46 L385.60,328.89 L385.86,329.32 L386.13,329.74 L386.39,330.16 L386.66,330.58 L386.94,331.00 L387.22,331.42 L387.50,331.83 L387.79,332.24 L388.08,332.65 L388.37,333.06 L388.66,333.47 L388.96,333.87 L389.25,334.27 L389.55,334.67 L389.85,335.07 L390.15,335.47 L390.46,335.86 L390.77,336.26 L391.08,336.66 L391.39,337.05 L391.70,337.44 L392.02,337.83 L392.35,338.21 L392.68,338.59 L393.01,338.97 L393.35,339.33 L393.69,339.70 L394.04,340.05 L394.39,340.39 L394.75,340.73 L395.12,341.06 L395.50,341.38 L395.89,341.70 L396.29,342.01 L396.68,342.32 L397.09,342.62 L397.50,342.91 L397.91,343.20 L398.32,343.48 L398.73,343.75 L399.16,344.01 L399.58,344.27 L400.02,344.52 L400.46,344.76 L400.90,345.00" fill="none" stroke="#ff0000" stroke-width="3.0" stroke-linejoin="round" stroke-linecap="round"/>
<rect x="303.2" y="285.1" width="104.0" height="70.7" fill="none" stroke="#505050" stroke-width="1.35"/>
<path d="M303.2,302.8h1.8 M303.2,320.5h1.8 M303.2,338.1h1.8 M313.1,355.8v-1.8 M327.1,355.8v-1.8 M341.2,355.8v-1.8 M355.2,355.8v-1.8 M369.3,355.8v-1.8 M383.3,355.8v-1.8 M397.4,355.8v-1.8" stroke="#505050" stroke-width="1"/>
<text x="301.25" y="288.30" text-anchor="end" class="t">1</text>
<text x="301.25" y="324.05" text-anchor="end" class="t">0</text>
<text x="301.25" y="359.30" text-anchor="end" class="t">-1</text>
<text x="313.1" y="372.1" text-anchor="middle" class="t">400</text>
<text x="341.2" y="372.1" text-anchor="middle" class="t">800</text>
<text x="369.3" y="372.1" text-anchor="middle" class="t">1200</text>
<text x="397.4" y="372.1" text-anchor="middle" class="t">1600</text>
<text x="316.20" y="383.40" class="w" textLength="86.6" lengthAdjust="spacingAndGlyphs">Wavelength (nm)</text>
<text x="381.20" y="300.90" class="m" transform="translate(382.10,0) scale(0.96,1) translate(-382.10,0)">M</text>
<text x="393.60" y="305.90" class="s" textLength="10.2" lengthAdjust="spacingAndGlyphs">43</text>
<g fill="none" stroke="#1010ff" stroke-width="1.5"><circle cx="441.10" cy="313.10" r="1.7"/><circle cx="442.52" cy="326.92" r="1.7"/><circle cx="443.94" cy="334.99" r="1.7"/><circle cx="445.36" cy="334.08" r="1.7"/><circle cx="446.78" cy="331.95" r="1.7"/><circle cx="448.20" cy="331.44" r="1.7"/><circle cx="449.62" cy="333.90" r="1.7"/><circle cx="451.04" cy="339.90" r="1.7"/><circle cx="452.46" cy="336.62" r="1.7"/><circle cx="453.88" cy="334.96" r="1.7"/><circle cx="455.30" cy="328.08" r="1.7"/><circle cx="456.72" cy="318.44" r="1.7"/><circle cx="458.14" cy="310.76" r="1.7"/><circle cx="459.56" cy="311.12" r="1.7"/><circle cx="460.98" cy="312.50" r="1.7"/><circle cx="462.40" cy="314.63" r="1.7"/><circle cx="463.82" cy="316.68" r="1.7"/><circle cx="465.24" cy="318.35" r="1.7"/><circle cx="466.66" cy="319.58" r="1.7"/><circle cx="468.08" cy="320.30" r="1.7"/><circle cx="469.50" cy="320.69" r="1.7"/><circle cx="470.92" cy="320.40" r="1.7"/><circle cx="472.34" cy="319.63" r="1.7"/><circle cx="473.76" cy="318.56" r="1.7"/><circle cx="475.18" cy="317.25" r="1.7"/><circle cx="476.60" cy="315.80" r="1.7"/><circle cx="478.02" cy="314.39" r="1.7"/><circle cx="479.44" cy="312.95" r="1.7"/><circle cx="480.86" cy="311.87" r="1.7"/><circle cx="482.28" cy="311.18" r="1.7"/><circle cx="483.70" cy="310.81" r="1.7"/><circle cx="485.12" cy="310.86" r="1.7"/><circle cx="486.54" cy="311.04" r="1.7"/><circle cx="487.96" cy="311.71" r="1.7"/><circle cx="490.60" cy="314.45" r="1.7"/><circle cx="494.14" cy="317.96" r="1.7"/><circle cx="497.68" cy="323.00" r="1.7"/><circle cx="501.22" cy="328.37" r="1.7"/><circle cx="504.76" cy="333.52" r="1.7"/><circle cx="508.30" cy="338.08" r="1.7"/><circle cx="511.84" cy="340.09" r="1.7"/><circle cx="515.38" cy="339.56" r="1.7"/><circle cx="518.92" cy="338.27" r="1.7"/><circle cx="522.46" cy="336.16" r="1.7"/><circle cx="526.00" cy="333.19" r="1.7"/><circle cx="529.54" cy="328.89" r="1.7"/><circle cx="533.08" cy="325.11" r="1.7"/></g>
<path d="M442.10,298.30 L442.16,298.80 L442.23,299.29 L442.29,299.79 L442.35,300.28 L442.41,300.78 L442.47,301.28 L442.53,301.77 L442.59,302.27 L442.65,302.77 L442.70,303.26 L442.75,303.76 L442.81,304.26 L442.86,304.75 L442.91,305.25 L442.96,305.75 L443.00,306.25 L443.05,306.75 L443.10,307.24 L443.14,307.74 L443.19,308.24 L443.23,308.74 L443.28,309.24 L443.32,309.73 L443.36,310.23 L443.39,310.73 L443.43,311.23 L443.47,311.73 L443.50,312.23 L443.54,312.72 L443.57,313.22 L443.60,313.72 L443.64,314.22 L443.67,314.72 L443.70,315.22 L443.73,315.72 L443.76,316.22 L443.79,316.72 L443.82,317.22 L443.85,317.71 L443.88,318.21 L443.91,318.71 L443.94,319.21 L443.96,319.71 L443.99,320.21 L444.02,320.71 L444.05,321.21 L444.08,321.71 L444.11,322.21 L444.14,322.71 L444.17,323.20 L444.20,323.70 L444.23,324.20 L444.25,324.70 L444.28,325.20 L444.31,325.70 L444.34,326.20 L444.37,326.70 L444.39,327.20 L444.42,327.70 L444.45,328.20 L444.47,328.70 L444.50,329.20 L444.52,329.70 L444.54,330.20 L444.57,330.70 L444.59,331.20 L444.62,331.69 L444.65,332.19 L444.68,332.69 L444.71,333.19 L444.75,333.69 L444.79,334.19 L444.84,334.73 L444.90,335.37 L444.97,336.02 L445.04,336.58 L445.13,336.97 L445.21,337.10 L445.30,336.96 L445.41,336.62 L445.52,336.13 L445.63,335.54 L445.75,334.89 L445.85,334.25 L445.95,333.65 L446.03,333.13 L446.09,332.64 L446.16,332.14 L446.22,331.64 L446.27,331.15 L446.32,330.65 L446.37,330.15 L446.41,329.65 L446.46,329.15 L446.50,328.65 L446.55,328.15 L446.59,327.65 L446.64,327.15 L446.69,326.66 L446.75,326.16 L446.81,325.66 L446.87,325.17 L446.94,324.68 L447.02,324.18 L447.11,323.62 L447.21,323.00 L447.33,322.35 L447.45,321.73 L447.58,321.17 L447.72,320.72 L447.86,320.41 L448.00,320.30 L448.15,320.43 L448.32,320.79 L448.49,321.32 L448.67,321.92 L448.83,322.55 L448.96,323.13 L449.07,323.62 L449.17,324.11 L449.26,324.59 L449.34,325.08 L449.42,325.58 L449.50,326.07 L449.57,326.57 L449.64,327.06 L449.71,327.56 L449.77,328.06 L449.84,328.56 L449.90,329.05 L449.96,329.55 L450.03,330.05 L450.09,330.55 L450.16,331.04 L450.23,331.54 L450.30,332.03 L450.37,332.53 L450.44,333.02 L450.51,333.52 L450.57,334.01 L450.64,334.51 L450.71,335.01 L450.78,335.50 L450.85,336.00 L450.92,336.49 L450.99,336.99 L451.07,337.48 L451.15,337.97 L451.23,338.47 L451.32,339.05 L451.41,339.68 L451.51,340.33 L451.61,340.96 L451.71,341.51 L451.81,341.95 L451.91,342.22 L452.02,342.30 L452.13,342.16 L452.24,341.86 L452.36,341.42 L452.47,340.88 L452.59,340.26 L452.70,339.62 L452.81,338.97 L452.91,338.36 L453.00,337.82 L453.08,337.33 L453.16,336.84 L453.23,336.34 L453.30,335.85 L453.37,335.35 L453.44,334.86 L453.50,334.36 L453.57,333.87 L453.63,333.37 L453.69,332.87 L453.75,332.38 L453.80,331.88 L453.86,331.38 L453.92,330.88 L453.97,330.39 L454.03,329.89 L454.09,329.39 L454.15,328.90 L454.20,328.40 L454.26,327.90 L454.32,327.41 L454.38,326.91 L454.43,326.41 L454.49,325.92 L454.54,325.42 L454.60,324.92 L454.65,324.42 L454.70,323.93 L454.75,323.43 L454.80,322.93 L454.85,322.44 L454.90,321.94 L454.94,321.44 L454.99,320.94 L455.03,320.44 L455.07,319.95 L455.10,319.45 L455.14,318.95 L455.17,318.45 L455.20,317.95 L455.23,317.44 L455.25,316.94 L455.28,316.44 L455.31,315.94 L455.34,315.44 L455.37,314.94 L455.40,314.44 L455.43,313.94 L455.46,313.45 L455.50,312.95 L455.54,312.45 L455.58,311.95 L455.63,311.46 L455.68,310.97 L455.74,310.47 L455.80,309.96 L455.87,309.45 L455.95,308.94 L456.03,308.42 L456.13,307.90 L456.23,307.40 L456.34,306.90 L456.47,306.41 L456.61,305.94 L456.76,305.50 L456.93,305.07 L457.12,304.65 L457.43,304.18 L457.80,303.74 L458.21,303.38 L458.61,303.21 L459.01,303.28 L459.44,303.56 L459.86,303.94 L460.22,304.32 L460.51,304.69 L460.77,305.09 L461.02,305.53 L461.24,305.98 L461.46,306.45 L461.68,306.92 L461.89,307.39 L462.12,307.84 L462.35,308.28 L462.57,308.73 L462.79,309.18 L463.00,309.63 L463.22,310.08 L463.44,310.53 L463.67,310.98 L463.90,311.42 L464.14,311.86 L464.38,312.30 L464.62,312.75 L464.86,313.20 L465.10,313.65 L465.36,314.08 L465.63,314.50 L465.91,314.91 L466.21,315.29 L466.53,315.66 L466.88,316.04 L467.25,316.42 L467.65,316.76 L468.06,317.05 L468.48,317.26 L468.93,317.40 L469.42,317.51 L469.93,317.61 L470.44,317.68 L470.93,317.70 L471.41,317.63 L471.89,317.47 L472.36,317.25 L472.82,317.01 L473.25,316.77 L473.67,316.52 L474.07,316.22 L474.46,315.90 L474.84,315.57 L475.23,315.23 L475.61,314.91 L475.98,314.58 L476.35,314.24 L476.72,313.90 L477.09,313.56 L477.45,313.22 L477.82,312.88 L478.20,312.55 L478.58,312.23 L478.97,311.92 L479.36,311.60 L479.75,311.28 L480.15,310.97 L480.55,310.67 L480.96,310.39 L481.38,310.12 L481.81,309.88 L482.25,309.62 L482.70,309.35 L483.16,309.11 L483.63,308.90 L484.10,308.76 L484.57,308.70 L485.07,308.70 L485.57,308.70 L486.08,308.70 L486.58,308.70 L487.07,308.71 L487.54,308.81 L488.02,309.01 L488.48,309.26 L488.92,309.53 L489.34,309.78 L489.74,310.06 L490.13,310.36 L490.52,310.69 L490.89,311.04 L491.25,311.39 L491.60,311.76 L491.95,312.13 L492.29,312.49 L492.62,312.86 L492.94,313.24 L493.26,313.63 L493.57,314.02 L493.87,314.42 L494.17,314.83 L494.46,315.24 L494.75,315.65 L495.03,316.06 L495.32,316.47 L495.59,316.89 L495.86,317.31 L496.13,317.73 L496.39,318.15 L496.65,318.58 L496.90,319.01 L497.15,319.45 L497.40,319.88 L497.65,320.32 L497.90,320.75 L498.14,321.19 L498.39,321.63 L498.63,322.06 L498.88,322.50 L499.12,322.94 L499.36,323.37 L499.59,323.82 L499.83,324.26 L500.06,324.70 L500.30,325.14 L500.53,325.58 L500.77,326.02 L501.00,326.46 L501.24,326.90 L501.48,327.34 L501.73,327.78 L501.98,328.21 L502.23,328.64 L502.48,329.08 L502.73,329.51 L502.98,329.94 L503.23,330.38 L503.49,330.81 L503.75,331.23 L504.01,331.66 L504.27,332.08 L504.54,332.50 L504.82,332.92 L505.09,333.34 L505.37,333.75 L505.65,334.17 L505.93,334.59 L506.22,335.01 L506.51,335.42 L506.80,335.83 L507.11,336.23 L507.42,336.62 L507.74,337.00 L508.07,337.36 L508.41,337.72 L508.76,338.08 L509.13,338.44 L509.51,338.79 L509.90,339.13 L510.30,339.44 L510.71,339.72 L511.13,339.97 L511.56,340.17 L512.01,340.37 L512.48,340.56 L512.96,340.74 L513.45,340.90 L513.95,341.04 L514.44,341.14 L514.93,341.19 L515.42,341.19 L515.90,341.14 L516.39,341.03 L516.88,340.89 L517.36,340.72 L517.84,340.53 L518.31,340.34 L518.78,340.15 L519.23,339.96 L519.67,339.75 L520.11,339.52 L520.55,339.27 L520.98,339.00 L521.40,338.73 L521.82,338.45 L522.24,338.16 L522.65,337.87 L523.07,337.59 L523.48,337.31 L523.89,337.02 L524.29,336.73 L524.70,336.43 L525.10,336.13 L525.49,335.83 L525.89,335.52 L526.28,335.21 L526.67,334.89 L527.06,334.58 L527.44,334.26 L527.83,333.94 L528.21,333.62 L528.59,333.29 L528.96,332.96 L529.34,332.63 L529.71,332.30 L530.08,331.96 L530.45,331.63 L530.82,331.29 L531.19,330.96 L531.57,330.62 L531.94,330.29 L532.31,329.95 L532.68,329.62 L533.05,329.28 L533.42,328.95 L533.79,328.61 L534.16,328.27 L534.53,327.94 L534.90,327.60" fill="none" stroke="#ff0000" stroke-width="3.0" stroke-linejoin="round" stroke-linecap="round"/>
<rect x="437.0" y="285.1" width="104.6" height="70.7" fill="none" stroke="#505050" stroke-width="1.35"/>
<path d="M437.0,302.8h1.8 M437.0,320.5h1.8 M437.0,338.1h1.8 M446.9,355.8v-1.8 M460.9,355.8v-1.8 M475.0,355.8v-1.8 M489.0,355.8v-1.8 M503.1,355.8v-1.8 M517.1,355.8v-1.8 M531.2,355.8v-1.8" stroke="#505050" stroke-width="1"/>
<text x="435.05" y="288.30" text-anchor="end" class="t">0.0</text>
<text x="435.05" y="324.05" text-anchor="end" class="t">-0.6</text>
<text x="435.05" y="359.30" text-anchor="end" class="t">-1.2</text>
<text x="446.9" y="372.1" text-anchor="middle" class="t">400</text>
<text x="475.0" y="372.1" text-anchor="middle" class="t">800</text>
<text x="503.1" y="372.1" text-anchor="middle" class="t">1200</text>
<text x="531.2" y="372.1" text-anchor="middle" class="t">1600</text>
<text x="450.00" y="383.40" class="w" textLength="86.6" lengthAdjust="spacingAndGlyphs">Wavelength (nm)</text>
<text x="514.90" y="301.50" class="m" transform="translate(515.80,0) scale(0.96,1) translate(-515.80,0)">M</text>
<text x="527.30" y="306.80" class="s" textLength="9.9" lengthAdjust="spacingAndGlyphs">44</text>
</svg></body></html>
